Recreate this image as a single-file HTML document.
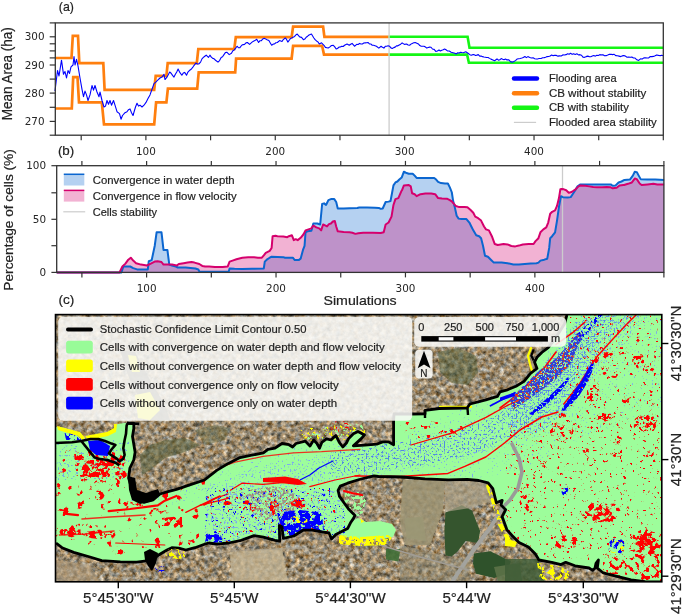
<!DOCTYPE html><html><head><meta charset="utf-8"><style>html,body{margin:0;padding:0;background:#fff;width:685px;height:614px;overflow:hidden}svg{display:block}.t{font-family:"DejaVu Sans",sans-serif;font-size:10.4px;fill:#262626}.c{font-family:"Liberation Sans",sans-serif;fill:#222;stroke:#222;stroke-width:0.2px}</style></head><body>
<svg width="685" height="614" viewBox="0 0 685 614">
<rect width="685" height="614" fill="#fff"/>
<polyline points="55.30,58.00 71.50,58.00 72.80,35.90 78.00,35.90 79.30,63.10 103.30,63.10 104.60,89.80 154.20,89.80 155.70,75.80 166.40,75.80 167.70,63.10 196.80,63.10 198.30,49.00 234.30,49.00 235.80,37.20 291.60,37.20 293.10,26.60 323.10,26.60 324.40,36.80 388.60,36.80" fill="none" stroke="#ff7f0e" stroke-width="2.7" stroke-linejoin="miter"/>
<polyline points="55.30,108.50 71.80,108.50 73.20,77.10 77.50,77.10 79.00,102.40 101.80,102.40 104.00,124.30 154.20,124.30 156.10,102.40 166.40,102.40 167.90,88.70 197.20,88.70 198.70,72.40 235.20,72.40 236.10,58.70 291.60,58.70 293.10,45.80 322.10,45.80 324.00,54.60 388.60,54.60" fill="none" stroke="#ff7f0e" stroke-width="2.7"/>
<polyline points="388.60,36.80 467.60,36.80 469.50,47.70 663.30,47.70" fill="none" stroke="#14f514" stroke-width="2.6"/>
<polyline points="388.60,54.60 467.10,54.60 468.90,62.80 663.30,62.80" fill="none" stroke="#14f514" stroke-width="2.6"/>
<line x1="389.1" y1="22.9" x2="389.1" y2="135.2" stroke="#cccccc" stroke-width="1.3"/>
<polyline points="55.00,91.00 57.50,70.50 59.00,76.00 61.50,60.20 63.50,74.30 65.00,71.50 66.50,78.00 68.00,70.50 69.50,73.40 71.00,66.80 73.00,65.00 74.00,56.50 75.00,65.00 76.50,59.30 78.00,65.90 80.00,78.00 82.00,89.30 83.50,96.70 85.00,91.10 86.50,94.90 88.00,100.50 90.00,94.90 92.00,85.50 93.50,90.20 95.00,85.50 97.00,92.00 99.00,96.70 100.00,92.00 102.00,100.50 104.00,107.00 105.50,106.10 107.00,100.50 108.50,104.20 110.00,100.50 111.50,105.20 113.50,100.50 115.00,105.20 117.00,111.70 119.50,113.60 121.00,119.20 122.50,115.50 125.00,112.70 127.00,111.70 128.50,109.64 130.00,108.90 131.50,112.70 133.00,115.50 135.50,107.00 137.00,103.30 138.50,106.10 140.00,105.20 142.00,107.00 144.00,105.20 146.00,102.40 148.00,98.60 150.00,94.90 152.00,89.30 154.00,83.60 156.00,81.80 158.00,79.90 160.00,78.00 162.00,77.10 164.00,74.30 165.00,79.53 166.56,77.66 168.12,75.01 169.68,72.04 171.12,73.28 172.55,75.40 173.99,77.09 175.36,74.32 176.73,72.00 178.10,69.05 179.97,72.65 181.85,75.22 183.25,73.08 184.66,72.41 186.53,75.22 187.94,72.03 189.34,70.54 191.21,69.27 193.08,66.80 194.49,64.81 195.89,63.06 197.29,64.00 198.70,63.99 200.57,62.12 201.97,58.88 203.38,57.44 204.78,56.22 206.18,55.19 208.43,57.44 209.93,55.19 211.33,57.18 212.73,58.38 214.13,58.83 215.54,60.25 217.98,62.12 219.57,60.58 221.16,57.44 222.56,56.76 223.97,54.63 225.37,52.57 226.77,52.20 229.21,54.63 231.45,53.32 232.85,50.78 234.26,49.95 235.66,48.15 237.07,46.21 238.47,47.75 239.88,47.70 241.75,45.27 243.16,44.59 244.56,44.34 245.97,42.89 247.37,42.46 249.61,44.34 252.05,42.09 253.45,41.20 254.85,40.59 256.73,39.28 258.60,42.46 260.00,40.68 261.41,40.59 262.81,38.97 264.21,38.35 265.62,38.89 267.02,39.66 268.89,40.59 270.29,42.92 271.70,45.27 273.11,44.13 274.51,43.96 275.91,42.73 277.32,42.46 279.56,40.59 282.00,41.53 282.81,40.22 285.24,37.78 286.55,39.43 287.86,42.09 290.30,38.72 291.70,37.90 293.10,37.22 294.60,36.47 295.91,34.88 297.22,34.04 299.66,36.85 301.53,37.39 303.40,39.66 304.80,39.05 306.21,37.22 307.62,36.20 309.02,34.98 311.45,34.04 313.70,37.78 315.10,39.63 316.50,40.97 317.90,41.90 319.31,43.96 321.56,42.84 323.99,45.27 325.39,47.37 326.80,47.70 328.21,48.07 329.61,47.14 331.48,45.52 333.35,45.27 334.75,46.84 336.16,49.02 337.57,48.48 338.97,47.14 340.37,47.06 341.77,46.21 343.17,46.53 344.58,45.27 347.02,43.96 349.26,45.27 350.66,44.19 352.07,43.40 354.50,46.21 356.75,44.34 358.15,44.46 359.56,43.40 360.97,43.99 362.37,43.96 363.77,43.05 365.17,42.84 366.58,42.81 367.98,42.46 369.38,43.90 370.79,43.96 372.20,45.24 373.60,45.27 375.00,45.75 376.41,46.21 378.84,48.08 381.09,46.21 382.49,47.31 383.89,48.08 385.29,46.31 386.70,46.21 388.11,45.75 389.51,46.21 390.91,47.87 392.32,48.45 393.73,47.64 395.13,47.14 396.47,45.90 397.81,45.83 399.24,44.92 400.68,44.20 402.11,42.84 404.36,44.34 406.61,43.96 408.11,44.93 409.60,45.27 410.91,44.11 412.22,43.40 413.72,42.82 415.22,42.46 416.81,43.23 418.40,43.96 419.80,45.59 421.21,46.21 422.62,46.25 424.02,46.21 425.42,46.95 426.82,48.08 428.23,47.59 429.63,47.14 431.03,47.23 432.44,49.02 434.12,49.41 435.81,51.45 437.40,51.07 438.99,49.95 440.39,51.01 441.80,50.33 443.21,49.84 444.61,49.02 446.01,49.76 447.41,50.89 449.29,50.95 451.16,52.20 453.03,52.76 454.90,53.32 456.30,53.91 457.71,52.76 459.12,52.97 460.52,52.20 461.92,52.55 463.33,52.76 465.76,51.82 468.01,53.32 469.88,54.63 471.28,55.28 472.69,54.63 474.09,54.62 475.49,55.57 476.89,55.12 478.30,54.63 479.71,56.10 481.11,55.94 482.51,56.64 483.92,57.06 485.33,57.18 486.73,57.44 488.13,57.49 489.53,58.38 490.93,59.12 492.34,59.69 494.59,60.81 497.02,58.94 498.42,60.14 499.83,59.69 501.24,58.61 502.64,59.31 504.04,59.64 505.45,58.94 507.03,59.92 508.61,59.74 510.42,61.64 512.23,62.15 513.83,61.54 515.44,60.62 517.04,59.02 518.65,58.73 520.25,58.48 521.86,58.05 523.37,57.56 524.87,56.53 526.38,57.64 527.88,56.61 529.68,57.46 531.49,58.05 533.10,57.83 534.70,58.71 536.31,59.02 537.92,58.83 539.52,58.44 541.13,58.54 542.63,57.78 544.14,57.64 545.64,57.31 547.15,56.61 548.65,56.57 550.16,56.05 551.66,55.04 553.17,55.65 554.78,55.32 556.38,55.39 557.99,56.13 559.59,55.88 561.20,55.97 562.80,54.92 564.41,55.06 566.01,54.65 567.62,53.72 569.12,54.29 570.63,53.28 572.13,54.34 573.64,53.72 575.25,54.43 576.85,53.77 578.46,54.92 579.97,54.65 581.47,55.25 582.98,57.19 584.48,57.33 586.09,56.64 587.69,56.15 589.30,56.61 590.80,56.71 592.31,56.09 593.82,55.48 595.32,56.13 596.83,55.21 598.33,55.57 599.84,54.63 601.34,54.92 602.95,54.75 604.55,55.79 606.16,55.65 607.76,55.09 609.37,54.36 610.97,54.20 612.58,54.64 614.18,54.31 615.79,55.65 617.40,55.77 619.00,56.15 620.61,56.61 622.21,55.89 623.82,55.59 625.42,56.13 627.03,57.25 628.63,56.95 630.24,57.33 631.85,57.05 633.45,58.00 635.06,58.05 636.87,59.83 638.67,60.46 640.47,58.88 642.28,59.02 643.89,57.83 645.49,57.74 647.10,58.05 648.71,57.96 650.31,56.48 651.92,56.61 653.52,56.41 655.13,55.80 656.73,54.92 658.54,55.37 660.35,55.65 661.80,55.15 663.24,55.65" fill="none" stroke="#0000ff" stroke-width="1.1" stroke-linejoin="round"/>
<rect x="55.3" y="22.9" width="608.0" height="112.29999999999998" fill="none" stroke="#333" stroke-width="1.3"/>
<line x1="49.7" y1="22.9" x2="55.3" y2="22.9" stroke="#333" stroke-width="1.2"/>
<line x1="49.7" y1="36.8" x2="55.3" y2="36.8" stroke="#333" stroke-width="1.2"/>
<line x1="49.7" y1="43.8" x2="55.3" y2="43.8" stroke="#333" stroke-width="1.2"/>
<line x1="49.7" y1="50.9" x2="55.3" y2="50.9" stroke="#333" stroke-width="1.2"/>
<line x1="49.7" y1="57.9" x2="55.3" y2="57.9" stroke="#333" stroke-width="1.2"/>
<line x1="49.7" y1="65.0" x2="55.3" y2="65.0" stroke="#333" stroke-width="1.2"/>
<line x1="49.7" y1="79.1" x2="55.3" y2="79.1" stroke="#333" stroke-width="1.2"/>
<line x1="49.7" y1="93.1" x2="55.3" y2="93.1" stroke="#333" stroke-width="1.2"/>
<line x1="49.7" y1="107.3" x2="55.3" y2="107.3" stroke="#333" stroke-width="1.2"/>
<line x1="49.7" y1="121.4" x2="55.3" y2="121.4" stroke="#333" stroke-width="1.2"/>
<line x1="49.7" y1="135.2" x2="55.3" y2="135.2" stroke="#333" stroke-width="1.2"/>
<text class="t" x="44.6" y="40.45" text-anchor="end">300</text>
<text class="t" x="44.6" y="68.65" text-anchor="end">290</text>
<text class="t" x="44.6" y="96.75" text-anchor="end">280</text>
<text class="t" x="44.6" y="125.05" text-anchor="end">270</text>
<line x1="81.20" y1="135.2" x2="81.20" y2="140.3" stroke="#333" stroke-width="1.2"/>
<line x1="145.89" y1="135.2" x2="145.89" y2="140.3" stroke="#333" stroke-width="1.2"/>
<line x1="210.58" y1="135.2" x2="210.58" y2="140.3" stroke="#333" stroke-width="1.2"/>
<line x1="275.27" y1="135.2" x2="275.27" y2="140.3" stroke="#333" stroke-width="1.2"/>
<line x1="339.96" y1="135.2" x2="339.96" y2="140.3" stroke="#333" stroke-width="1.2"/>
<line x1="404.65" y1="135.2" x2="404.65" y2="140.3" stroke="#333" stroke-width="1.2"/>
<line x1="469.34" y1="135.2" x2="469.34" y2="140.3" stroke="#333" stroke-width="1.2"/>
<line x1="534.03" y1="135.2" x2="534.03" y2="140.3" stroke="#333" stroke-width="1.2"/>
<line x1="598.72" y1="135.2" x2="598.72" y2="140.3" stroke="#333" stroke-width="1.2"/>
<text class="t" x="145.89" y="154.5" text-anchor="middle">100</text>
<text class="t" x="275.27" y="154.5" text-anchor="middle">200</text>
<text class="t" x="404.65" y="154.5" text-anchor="middle">300</text>
<text class="t" x="534.03" y="154.5" text-anchor="middle">400</text>
<line x1="663.3" y1="135.2" x2="663.3" y2="140.3" stroke="#333" stroke-width="1.2"/>
<line x1="514" y1="78.5" x2="537" y2="78.5" stroke="#0000ff" stroke-width="4.4" stroke-linecap="round"/>
<line x1="514" y1="93.2" x2="537" y2="93.2" stroke="#ff7f0e" stroke-width="4.4" stroke-linecap="round"/>
<line x1="514" y1="107.7" x2="537" y2="107.7" stroke="#14f514" stroke-width="4.4" stroke-linecap="round"/>
<line x1="513.9" y1="122.4" x2="536.1" y2="122.4" stroke="#cccccc" stroke-width="1.2"/>
<text class="c" x="548.9" y="82.0" font-size="11.6" textLength="67.8" lengthAdjust="spacingAndGlyphs">Flooding area</text>
<text class="c" x="548.9" y="96.5" font-size="11.6" textLength="97.4" lengthAdjust="spacingAndGlyphs">CB without stability</text>
<text class="c" x="548.9" y="111.2" font-size="11.6" textLength="79.9" lengthAdjust="spacingAndGlyphs">CB with stability</text>
<text class="c" x="548.9" y="125.9" font-size="11.6" textLength="107.9" lengthAdjust="spacingAndGlyphs">Flooded area stability</text>
<text class="c" x="58.8" y="11.4" font-size="13.5" textLength="15.1" lengthAdjust="spacingAndGlyphs">(a)</text>
<text class="c" transform="translate(12.2,73.75) rotate(-90)" text-anchor="middle" font-size="13.8" textLength="93" lengthAdjust="spacingAndGlyphs">Mean Area (ha)</text>
<polygon points="56.70,272.40 56.70,272.40 121.40,272.40 123.40,266.50 130.20,266.50 133.20,268.10 137.10,269.40 147.80,269.40 148.80,261.20 151.70,260.10 154.70,246.00 156.60,232.30 161.50,232.30 163.50,249.90 167.40,249.90 169.30,264.60 172.00,265.50 175.86,266.51 177.82,267.48 185.63,267.48 195.41,268.46 198.34,269.44 199.31,271.39 209.09,271.78 228.63,271.78 229.61,268.46 234.49,268.85 242.31,269.05 252.08,268.85 263.80,268.46 264.78,261.62 266.74,259.67 269.67,257.71 271.62,256.74 283.35,257.13 285.00,257.71 292.82,257.71 294.77,260.06 298.68,260.06 300.63,258.69 302.98,249.90 304.54,245.99 305.52,232.31 307.47,231.33 311.38,230.74 313.34,223.51 317.25,223.51 320.18,224.49 322.13,203.97 324.09,203.38 326.04,204.95 328.38,200.06 330.93,199.09 334.25,199.09 336.20,202.02 337.77,208.47 343.63,208.47 349.49,208.27 357.31,208.08 359.26,207.49 367.08,207.49 374.90,207.68 378.80,207.88 380.76,208.86 382.71,208.47 385.64,202.02 388.58,201.63 390.53,201.04 393.46,185.41 395.42,182.47 397.37,181.50 399.32,179.54 401.67,177.59 403.91,171.73 405.86,172.70 408.79,173.68 412.70,173.68 414.66,175.63 416.61,177.98 421.50,177.98 429.31,177.98 434.20,177.98 436.15,179.54 438.11,181.89 441.04,183.06 444.95,183.45 447.88,183.45 449.83,187.36 451.79,192.25 453.16,201.04 454.72,206.90 456.67,215.70 458.63,218.63 461.56,219.02 466.45,219.02 469.38,222.54 471.33,226.45 473.29,230.35 476.22,235.24 479.15,236.22 481.10,238.17 483.06,245.99 485.01,255.76 487.94,256.74 490.87,259.67 493.80,262.60 501.62,262.60 507.48,263.19 513.35,264.55 515.00,264.55 518.91,264.55 524.77,263.97 530.63,263.58 536.50,263.19 538.45,262.60 540.41,260.64 544.31,259.67 547.25,258.69 549.20,247.94 550.18,238.17 552.13,236.22 555.06,232.31 557.02,220.58 558.97,206.90 560.93,196.15 562.88,197.13 567.77,197.52 570.70,197.13 572.65,194.20 574.61,191.27 577.54,186.38 580.47,184.43 585.35,184.43 597.08,184.43 604.90,184.43 610.76,184.43 612.71,185.80 615.64,185.41 618.58,182.47 621.51,181.50 624.44,179.93 629.92,179.53 632.85,175.62 634.80,171.72 636.76,172.11 638.71,175.62 640.66,179.14 647.50,179.53 655.31,179.53 664.10,179.92 664.10,272.40" fill="#0b66d0" fill-opacity="0.3"/>
<polygon points="56.70,272.40 56.70,272.40 119.50,272.40 122.40,266.50 125.40,263.60 128.30,259.70 130.80,257.70 133.20,260.60 136.10,263.20 141.00,264.60 146.90,265.50 150.80,263.60 154.70,261.60 157.60,261.20 161.50,262.00 163.50,264.60 172.00,264.60 176.84,265.53 178.79,263.97 183.68,263.19 187.59,262.60 191.50,262.01 194.43,262.60 199.31,263.97 202.25,265.92 205.18,266.51 209.09,266.51 214.95,266.90 222.77,267.09 227.65,266.51 229.61,261.62 232.54,260.64 236.45,259.28 238.40,258.69 242.31,257.71 248.17,257.32 254.03,257.32 257.94,257.71 261.85,257.71 263.80,255.37 265.76,252.83 269.67,250.87 271.62,247.94 272.60,236.22 275.53,235.83 277.48,236.22 283.35,236.61 287.26,237.19 288.91,236.22 291.84,235.24 293.79,240.13 295.75,239.15 297.70,240.13 300.63,237.78 303.57,234.26 305.52,230.35 308.45,229.38 311.38,228.40 313.34,225.47 316.27,227.42 319.20,228.40 321.15,230.35 323.11,224.49 325.06,225.47 327.02,226.45 328.97,224.10 330.93,223.51 332.88,221.56 334.83,220.97 336.20,226.45 337.77,231.33 343.63,231.92 349.49,232.31 352.42,232.70 355.35,233.87 358.29,233.29 363.17,232.70 372.94,232.70 380.76,233.09 383.69,232.31 385.64,224.49 388.58,222.54 391.51,216.67 393.46,204.95 395.42,199.09 398.35,198.11 401.28,191.27 401.95,190.29 403.91,185.41 408.79,185.01 410.75,186.38 412.12,193.22 414.66,194.20 416.61,196.15 420.52,194.20 425.41,193.61 431.27,193.61 435.18,194.20 438.11,198.11 442.02,198.50 446.90,198.69 449.83,200.06 451.79,201.43 455.70,205.93 458.63,206.90 464.49,206.90 467.42,207.29 470.35,209.83 473.29,212.77 475.24,216.67 478.17,218.24 481.10,220.58 484.03,226.45 485.99,229.38 488.92,230.35 491.85,236.22 494.78,244.03 497.71,245.01 503.58,244.03 507.48,244.42 511.39,245.99 515.30,246.38 518.91,245.60 522.82,244.42 528.68,244.03 533.57,244.03 535.52,241.10 538.45,238.17 540.41,232.31 543.34,229.38 546.27,227.42 548.22,222.54 550.18,213.74 552.13,211.79 555.06,210.42 557.02,205.93 558.97,198.11 560.34,189.31 561.90,188.92 563.86,189.31 566.20,190.29 568.74,192.83 570.70,192.25 572.65,191.27 575.58,189.31 578.51,186.38 580.47,185.41 585.35,185.80 589.26,186.38 593.17,186.97 597.08,187.36 601.97,187.36 606.85,186.97 610.76,187.36 612.71,188.34 616.62,187.75 619.55,185.41 623.46,185.01 624.06,185.00 627.97,183.83 631.88,182.46 634.80,178.55 636.76,179.14 639.69,183.44 641.64,185.00 647.50,184.41 653.36,183.83 657.27,184.41 664.10,184.41 664.10,272.40" fill="#d5006d" fill-opacity="0.3"/>
<line x1="562.5" y1="165.7" x2="562.5" y2="272.4" stroke="#cccccc" stroke-width="1.3"/>
<polyline points="56.70,272.40 121.40,272.40 123.40,266.50 130.20,266.50 133.20,268.10 137.10,269.40 147.80,269.40 148.80,261.20 151.70,260.10 154.70,246.00 156.60,232.30 161.50,232.30 163.50,249.90 167.40,249.90 169.30,264.60 172.00,265.50 175.86,266.51 177.82,267.48 185.63,267.48 195.41,268.46 198.34,269.44 199.31,271.39 209.09,271.78 228.63,271.78 229.61,268.46 234.49,268.85 242.31,269.05 252.08,268.85 263.80,268.46 264.78,261.62 266.74,259.67 269.67,257.71 271.62,256.74 283.35,257.13 285.00,257.71 292.82,257.71 294.77,260.06 298.68,260.06 300.63,258.69 302.98,249.90 304.54,245.99 305.52,232.31 307.47,231.33 311.38,230.74 313.34,223.51 317.25,223.51 320.18,224.49 322.13,203.97 324.09,203.38 326.04,204.95 328.38,200.06 330.93,199.09 334.25,199.09 336.20,202.02 337.77,208.47 343.63,208.47 349.49,208.27 357.31,208.08 359.26,207.49 367.08,207.49 374.90,207.68 378.80,207.88 380.76,208.86 382.71,208.47 385.64,202.02 388.58,201.63 390.53,201.04 393.46,185.41 395.42,182.47 397.37,181.50 399.32,179.54 401.67,177.59 403.91,171.73 405.86,172.70 408.79,173.68 412.70,173.68 414.66,175.63 416.61,177.98 421.50,177.98 429.31,177.98 434.20,177.98 436.15,179.54 438.11,181.89 441.04,183.06 444.95,183.45 447.88,183.45 449.83,187.36 451.79,192.25 453.16,201.04 454.72,206.90 456.67,215.70 458.63,218.63 461.56,219.02 466.45,219.02 469.38,222.54 471.33,226.45 473.29,230.35 476.22,235.24 479.15,236.22 481.10,238.17 483.06,245.99 485.01,255.76 487.94,256.74 490.87,259.67 493.80,262.60 501.62,262.60 507.48,263.19 513.35,264.55 515.00,264.55 518.91,264.55 524.77,263.97 530.63,263.58 536.50,263.19 538.45,262.60 540.41,260.64 544.31,259.67 547.25,258.69 549.20,247.94 550.18,238.17 552.13,236.22 555.06,232.31 557.02,220.58 558.97,206.90 560.93,196.15 562.88,197.13 567.77,197.52 570.70,197.13 572.65,194.20 574.61,191.27 577.54,186.38 580.47,184.43 585.35,184.43 597.08,184.43 604.90,184.43 610.76,184.43 612.71,185.80 615.64,185.41 618.58,182.47 621.51,181.50 624.44,179.93 629.92,179.53 632.85,175.62 634.80,171.72 636.76,172.11 638.71,175.62 640.66,179.14 647.50,179.53 655.31,179.53 664.10,179.92" fill="none" stroke="#0b66d0" stroke-width="2" stroke-linejoin="round"/>
<polyline points="56.70,272.40 119.50,272.40 122.40,266.50 125.40,263.60 128.30,259.70 130.80,257.70 133.20,260.60 136.10,263.20 141.00,264.60 146.90,265.50 150.80,263.60 154.70,261.60 157.60,261.20 161.50,262.00 163.50,264.60 172.00,264.60 176.84,265.53 178.79,263.97 183.68,263.19 187.59,262.60 191.50,262.01 194.43,262.60 199.31,263.97 202.25,265.92 205.18,266.51 209.09,266.51 214.95,266.90 222.77,267.09 227.65,266.51 229.61,261.62 232.54,260.64 236.45,259.28 238.40,258.69 242.31,257.71 248.17,257.32 254.03,257.32 257.94,257.71 261.85,257.71 263.80,255.37 265.76,252.83 269.67,250.87 271.62,247.94 272.60,236.22 275.53,235.83 277.48,236.22 283.35,236.61 287.26,237.19 288.91,236.22 291.84,235.24 293.79,240.13 295.75,239.15 297.70,240.13 300.63,237.78 303.57,234.26 305.52,230.35 308.45,229.38 311.38,228.40 313.34,225.47 316.27,227.42 319.20,228.40 321.15,230.35 323.11,224.49 325.06,225.47 327.02,226.45 328.97,224.10 330.93,223.51 332.88,221.56 334.83,220.97 336.20,226.45 337.77,231.33 343.63,231.92 349.49,232.31 352.42,232.70 355.35,233.87 358.29,233.29 363.17,232.70 372.94,232.70 380.76,233.09 383.69,232.31 385.64,224.49 388.58,222.54 391.51,216.67 393.46,204.95 395.42,199.09 398.35,198.11 401.28,191.27 401.95,190.29 403.91,185.41 408.79,185.01 410.75,186.38 412.12,193.22 414.66,194.20 416.61,196.15 420.52,194.20 425.41,193.61 431.27,193.61 435.18,194.20 438.11,198.11 442.02,198.50 446.90,198.69 449.83,200.06 451.79,201.43 455.70,205.93 458.63,206.90 464.49,206.90 467.42,207.29 470.35,209.83 473.29,212.77 475.24,216.67 478.17,218.24 481.10,220.58 484.03,226.45 485.99,229.38 488.92,230.35 491.85,236.22 494.78,244.03 497.71,245.01 503.58,244.03 507.48,244.42 511.39,245.99 515.30,246.38 518.91,245.60 522.82,244.42 528.68,244.03 533.57,244.03 535.52,241.10 538.45,238.17 540.41,232.31 543.34,229.38 546.27,227.42 548.22,222.54 550.18,213.74 552.13,211.79 555.06,210.42 557.02,205.93 558.97,198.11 560.34,189.31 561.90,188.92 563.86,189.31 566.20,190.29 568.74,192.83 570.70,192.25 572.65,191.27 575.58,189.31 578.51,186.38 580.47,185.41 585.35,185.80 589.26,186.38 593.17,186.97 597.08,187.36 601.97,187.36 606.85,186.97 610.76,187.36 612.71,188.34 616.62,187.75 619.55,185.41 623.46,185.01 624.06,185.00 627.97,183.83 631.88,182.46 634.80,178.55 636.76,179.14 639.69,183.44 641.64,185.00 647.50,184.41 653.36,183.83 657.27,184.41 664.10,184.41" fill="none" stroke="#d5006d" stroke-width="2" stroke-linejoin="round"/>
<rect x="56.7" y="165.7" width="607.1999999999999" height="106.69999999999999" fill="none" stroke="#333" stroke-width="1.3"/>
<line x1="51.4" y1="165.7" x2="56.7" y2="165.7" stroke="#333" stroke-width="1.2"/>
<line x1="51.4" y1="192.8" x2="56.7" y2="192.8" stroke="#333" stroke-width="1.2"/>
<line x1="51.4" y1="219.3" x2="56.7" y2="219.3" stroke="#333" stroke-width="1.2"/>
<line x1="51.4" y1="245.7" x2="56.7" y2="245.7" stroke="#333" stroke-width="1.2"/>
<line x1="51.4" y1="272.4" x2="56.7" y2="272.4" stroke="#333" stroke-width="1.2"/>
<text class="t" x="46.0" y="169.45" text-anchor="end">100</text>
<text class="t" x="46.0" y="222.95" text-anchor="end">50</text>
<text class="t" x="46.0" y="276.05" text-anchor="end">0</text>
<line x1="81.90" y1="165.7" x2="81.90" y2="160.9" stroke="#333" stroke-width="1.2"/>
<line x1="81.90" y1="272.4" x2="81.90" y2="277.4" stroke="#333" stroke-width="1.2"/>
<line x1="146.61" y1="165.7" x2="146.61" y2="160.9" stroke="#333" stroke-width="1.2"/>
<line x1="146.61" y1="272.4" x2="146.61" y2="277.4" stroke="#333" stroke-width="1.2"/>
<line x1="211.32" y1="165.7" x2="211.32" y2="160.9" stroke="#333" stroke-width="1.2"/>
<line x1="211.32" y1="272.4" x2="211.32" y2="277.4" stroke="#333" stroke-width="1.2"/>
<line x1="276.03" y1="165.7" x2="276.03" y2="160.9" stroke="#333" stroke-width="1.2"/>
<line x1="276.03" y1="272.4" x2="276.03" y2="277.4" stroke="#333" stroke-width="1.2"/>
<line x1="340.74" y1="165.7" x2="340.74" y2="160.9" stroke="#333" stroke-width="1.2"/>
<line x1="340.74" y1="272.4" x2="340.74" y2="277.4" stroke="#333" stroke-width="1.2"/>
<line x1="405.45" y1="165.7" x2="405.45" y2="160.9" stroke="#333" stroke-width="1.2"/>
<line x1="405.45" y1="272.4" x2="405.45" y2="277.4" stroke="#333" stroke-width="1.2"/>
<line x1="470.16" y1="165.7" x2="470.16" y2="160.9" stroke="#333" stroke-width="1.2"/>
<line x1="470.16" y1="272.4" x2="470.16" y2="277.4" stroke="#333" stroke-width="1.2"/>
<line x1="534.87" y1="165.7" x2="534.87" y2="160.9" stroke="#333" stroke-width="1.2"/>
<line x1="534.87" y1="272.4" x2="534.87" y2="277.4" stroke="#333" stroke-width="1.2"/>
<line x1="599.58" y1="165.7" x2="599.58" y2="160.9" stroke="#333" stroke-width="1.2"/>
<line x1="599.58" y1="272.4" x2="599.58" y2="277.4" stroke="#333" stroke-width="1.2"/>
<line x1="663.9" y1="165.7" x2="663.9" y2="160.9" stroke="#333" stroke-width="1.2"/>
<line x1="663.9" y1="272.4" x2="663.9" y2="277.4" stroke="#333" stroke-width="1.2"/>
<text class="t" x="146.61" y="291.6" text-anchor="middle">100</text>
<text class="t" x="276.03" y="291.6" text-anchor="middle">200</text>
<text class="t" x="405.45" y="291.6" text-anchor="middle">300</text>
<text class="t" x="534.87" y="291.6" text-anchor="middle">400</text>
<rect x="63.8" y="173.8" width="20.5" height="11.7" fill="#0b66d0" fill-opacity="0.3"/>
<line x1="63.8" y1="174.3" x2="84.3" y2="174.3" stroke="#0b66d0" stroke-width="1.5"/>
<rect x="63.8" y="189.9" width="20.5" height="11.7" fill="#d5006d" fill-opacity="0.3"/>
<line x1="63.8" y1="190.4" x2="84.3" y2="190.4" stroke="#d5006d" stroke-width="1.5"/>
<line x1="63.3" y1="211.8" x2="85.2" y2="211.8" stroke="#cccccc" stroke-width="1.2"/>
<text class="c" x="92.7" y="184.1" font-size="11.4" textLength="142.0" lengthAdjust="spacingAndGlyphs">Convergence in water depth</text>
<text class="c" x="92.7" y="199.9" font-size="11.4" textLength="144.0" lengthAdjust="spacingAndGlyphs">Convergence in flow velocity</text>
<text class="c" x="92.7" y="215.7" font-size="11.4" textLength="64.4" lengthAdjust="spacingAndGlyphs">Cells stability</text>
<text class="c" x="57.9" y="155.1" font-size="13.5" textLength="16.3" lengthAdjust="spacingAndGlyphs">(b)</text>
<text class="c" transform="translate(13,219.9) rotate(-90)" text-anchor="middle" font-size="13.3" textLength="141.5" lengthAdjust="spacingAndGlyphs">Percentage of cells (%)</text>
<text class="c" x="323.5" y="304.7" font-size="13.3" textLength="73.2" lengthAdjust="spacingAndGlyphs">Simulations</text>
<text class="c" x="58.5" y="303.6" font-size="13.5" textLength="15.9" lengthAdjust="spacingAndGlyphs">(c)</text>
<defs>
<clipPath id="mclip"><rect x="55.5" y="314.6" width="606.3" height="267.2"/></clipPath>
<clipPath id="gclip"><polygon points="56.0,427.0 62.0,427.5 70.0,429.5 81.0,433.5 85.0,439.0 95.0,436.0 107.0,434.0 115.0,431.0 114.0,426.0 118.0,424.0 124.0,423.0 127.0,423.0 133.8,423.3 133.8,428.5 132.5,436.4 133.8,444.3 135.1,452.2 133.8,460.0 129.9,468.0 128.6,478.0 132.0,489.4 136.8,498.8 143.8,502.3 153.0,500.0 160.0,494.0 167.0,491.8 176.5,489.4 190.5,484.7 204.5,480.0 216.7,470.4 228.4,463.4 240.0,457.6 251.7,455.2 263.4,452.9 268.0,449.4 275.0,448.2 282.0,443.5 289.0,444.7 292.6,447.0 296.0,443.5 305.4,441.2 310.0,445.9 313.6,440.0 317.0,443.5 319.5,448.2 321.8,442.4 326.5,438.9 331.0,440.0 335.8,435.4 339.3,442.4 342.8,447.0 346.4,443.0 348.7,438.4 353.4,433.7 358.0,431.4 364.5,434.9 361.5,438.4 353.4,445.9 365.0,445.1 376.7,444.2 382.6,441.9 388.4,441.9 393.6,444.8 393.6,421.4 394.0,414.0 412.0,414.0 425.0,413.9 425.0,410.4 439.0,408.5 467.0,408.0 470.0,404.0 485.8,399.9 497.5,396.4 500.0,391.8 506.4,390.2 516.0,386.2 524.0,381.4 530.5,373.4 537.0,368.5 534.5,362.0 537.0,357.3 541.8,352.5 548.2,347.7 555.0,339.0 560.0,331.0 564.6,323.7 566.9,315.0 661.8,315.0 661.8,582.0 645.0,581.7 631.0,579.8 617.0,576.3 603.0,572.8 597.3,568.0 598.4,560.0 596.0,563.4 595.0,568.0 592.6,570.4 589.0,568.0 575.0,565.8 565.7,562.3 561.0,564.6 551.7,562.3 538.9,560.0 535.4,554.0 528.4,547.0 519.0,542.4 512.0,535.4 507.0,530.0 502.2,516.7 505.7,509.7 501.0,505.0 502.2,500.4 496.3,502.7 495.2,498.0 492.8,488.7 488.1,482.8 478.8,480.5 467.1,479.3 448.4,479.8 425.0,478.9 401.7,477.0 378.4,476.5 374.0,475.9 359.3,479.5 347.6,483.2 340.3,486.1 338.1,490.5 339.5,496.4 344.7,503.7 349.0,509.6 355.0,515.4 353.5,518.4 350.5,522.8 347.6,528.6 341.7,531.6 335.9,534.5 331.5,538.9 329.0,533.0 321.8,531.9 312.4,530.2 303.0,530.2 293.8,536.0 283.3,538.4 282.0,526.7 279.3,525.5 279.7,541.2 275.0,540.3 263.4,537.2 254.0,535.6 240.0,540.7 228.4,543.0 216.7,544.2 209.0,543.0 204.5,544.2 195.0,547.7 185.8,550.0 178.8,548.2 171.8,547.7 167.0,550.0 159.0,554.7 153.0,559.4 152.0,567.6 148.4,560.6 136.8,562.2 120.4,561.8 101.7,560.6 90.0,557.0 73.7,552.4 62.0,547.7 56.0,543.0"/><polygon points="352,521 358,518 366,522 380,521 392,524 396,530 393,537 380,539 360,539 345,537 340,535 343,531 347,529 350,523"/></clipPath>
<filter id="sat" color-interpolation-filters="sRGB" x="0" y="0" width="100%" height="100%"><feTurbulence type="fractalNoise" baseFrequency="0.22" numOctaves="3" seed="7"/><feColorMatrix type="matrix" values="0.9 0.45 0.4 0 -0.265  0.9 0.15 0.4 0 -0.175  0.9 -0.2 0.4 0 -0.10  0 0 0 0 1"/></filter>
<filter id="sp0" color-interpolation-filters="sRGB" x="0" y="0" width="100%" height="100%"><feTurbulence type="fractalNoise" baseFrequency="0.5" numOctaves="3" seed="21" result="n"/><feColorMatrix in="n" type="matrix" values="0 0 0 0 0.478  0 0 0 0 0.651  0 0 0 0 0.957  14 0 0 0 -8.82"/><feComposite in2="SourceGraphic" operator="in"/></filter>
<filter id="sp1" color-interpolation-filters="sRGB" x="0" y="0" width="100%" height="100%"><feTurbulence type="fractalNoise" baseFrequency="0.45" numOctaves="3" seed="23" result="n"/><feColorMatrix in="n" type="matrix" values="0 0 0 0 0.478  0 0 0 0 0.651  0 0 0 0 0.957  14 0 0 0 -8.40"/><feComposite in2="SourceGraphic" operator="in"/></filter>
<filter id="sp2" color-interpolation-filters="sRGB" x="0" y="0" width="100%" height="100%"><feTurbulence type="fractalNoise" baseFrequency="0.4" numOctaves="3" seed="25" result="n"/><feColorMatrix in="n" type="matrix" values="0 0 0 0 0.424  0 0 0 0 0.612  0 0 0 0 0.949  14 0 0 0 -8.96"/><feComposite in2="SourceGraphic" operator="in"/></filter>
<filter id="sp3" color-interpolation-filters="sRGB" x="0" y="0" width="100%" height="100%"><feTurbulence type="fractalNoise" baseFrequency="0.5" numOctaves="3" seed="27" result="n"/><feColorMatrix in="n" type="matrix" values="0 0 0 0 0.357  0 0 0 0 0.549  0 0 0 0 0.941  14 0 0 0 -8.12"/><feComposite in2="SourceGraphic" operator="in"/></filter>
<filter id="sp4" color-interpolation-filters="sRGB" x="0" y="0" width="100%" height="100%"><feTurbulence type="fractalNoise" baseFrequency="0.5" numOctaves="3" seed="28" result="n"/><feColorMatrix in="n" type="matrix" values="0 0 0 0 0.290  0 0 0 0 0.490  0 0 0 0 0.910  14 0 0 0 -8.40"/><feComposite in2="SourceGraphic" operator="in"/></filter>
<filter id="sp5" color-interpolation-filters="sRGB" x="0" y="0" width="100%" height="100%"><feTurbulence type="fractalNoise" baseFrequency="0.5" numOctaves="3" seed="29" result="n"/><feColorMatrix in="n" type="matrix" values="0 0 0 0 0.478  0 0 0 0 0.651  0 0 0 0 0.957  14 0 0 0 -9.52"/><feComposite in2="SourceGraphic" operator="in"/></filter>
<filter id="sp6" color-interpolation-filters="sRGB" x="0" y="0" width="100%" height="100%"><feTurbulence type="fractalNoise" baseFrequency="0.18" numOctaves="3" seed="3" result="n"/><feColorMatrix in="n" type="matrix" values="0 0 0 0 1.000  0 0 0 0 0.000  0 0 0 0 0.000  14 0 0 0 -7.70"/><feComposite in2="SourceGraphic" operator="in"/></filter>
<filter id="sp7" color-interpolation-filters="sRGB" x="0" y="0" width="100%" height="100%"><feTurbulence type="fractalNoise" baseFrequency="0.18" numOctaves="3" seed="4" result="n"/><feColorMatrix in="n" type="matrix" values="0 0 0 0 1.000  0 0 0 0 0.000  0 0 0 0 0.000  14 0 0 0 -6.58"/><feComposite in2="SourceGraphic" operator="in"/></filter>
<filter id="sp8" color-interpolation-filters="sRGB" x="0" y="0" width="100%" height="100%"><feTurbulence type="fractalNoise" baseFrequency="0.2" numOctaves="3" seed="5" result="n"/><feColorMatrix in="n" type="matrix" values="0 0 0 0 1.000  0 0 0 0 0.000  0 0 0 0 0.000  14 0 0 0 -6.30"/><feComposite in2="SourceGraphic" operator="in"/></filter>
<filter id="sp9" color-interpolation-filters="sRGB" x="0" y="0" width="100%" height="100%"><feTurbulence type="fractalNoise" baseFrequency="0.2" numOctaves="3" seed="6" result="n"/><feColorMatrix in="n" type="matrix" values="0 0 0 0 1.000  0 0 0 0 0.000  0 0 0 0 0.000  14 0 0 0 -6.30"/><feComposite in2="SourceGraphic" operator="in"/></filter>
<filter id="sp10" color-interpolation-filters="sRGB" x="0" y="0" width="100%" height="100%"><feTurbulence type="fractalNoise" baseFrequency="0.2" numOctaves="3" seed="7" result="n"/><feColorMatrix in="n" type="matrix" values="0 0 0 0 1.000  0 0 0 0 0.000  0 0 0 0 0.000  14 0 0 0 -6.30"/><feComposite in2="SourceGraphic" operator="in"/></filter>
<filter id="sp11" color-interpolation-filters="sRGB" x="0" y="0" width="100%" height="100%"><feTurbulence type="fractalNoise" baseFrequency="0.2" numOctaves="3" seed="8" result="n"/><feColorMatrix in="n" type="matrix" values="0 0 0 0 1.000  0 0 0 0 0.000  0 0 0 0 0.000  14 0 0 0 -7.00"/><feComposite in2="SourceGraphic" operator="in"/></filter>
<filter id="sp12" color-interpolation-filters="sRGB" x="0" y="0" width="100%" height="100%"><feTurbulence type="fractalNoise" baseFrequency="0.2" numOctaves="3" seed="9" result="n"/><feColorMatrix in="n" type="matrix" values="0 0 0 0 1.000  0 0 0 0 0.000  0 0 0 0 0.000  14 0 0 0 -6.30"/><feComposite in2="SourceGraphic" operator="in"/></filter>
<filter id="sp13" color-interpolation-filters="sRGB" x="0" y="0" width="100%" height="100%"><feTurbulence type="fractalNoise" baseFrequency="0.13" numOctaves="3" seed="10" result="n"/><feColorMatrix in="n" type="matrix" values="0 0 0 0 1.000  0 0 0 0 0.000  0 0 0 0 0.000  14 0 0 0 -9.24"/><feComposite in2="SourceGraphic" operator="in"/></filter>
<filter id="sp14" color-interpolation-filters="sRGB" x="0" y="0" width="100%" height="100%"><feTurbulence type="fractalNoise" baseFrequency="0.35" numOctaves="3" seed="57" result="n"/><feColorMatrix in="n" type="matrix" values="0 0 0 0 0.639  0 0 0 0 0.580  0 0 0 0 0.502  14 0 0 0 -7.00"/><feComposite in2="SourceGraphic" operator="in"/></filter>
<filter id="sp15" color-interpolation-filters="sRGB" x="0" y="0" width="100%" height="100%"><feTurbulence type="fractalNoise" baseFrequency="0.35" numOctaves="3" seed="58" result="n"/><feColorMatrix in="n" type="matrix" values="0 0 0 0 0.639  0 0 0 0 0.580  0 0 0 0 0.502  14 0 0 0 -7.70"/><feComposite in2="SourceGraphic" operator="in"/></filter>
<filter id="sp16" color-interpolation-filters="sRGB" x="0" y="0" width="100%" height="100%"><feTurbulence type="fractalNoise" baseFrequency="0.2" numOctaves="3" seed="11" result="n"/><feColorMatrix in="n" type="matrix" values="0 0 0 0 1.000  0 0 0 0 0.000  0 0 0 0 0.000  14 0 0 0 -6.30"/><feComposite in2="SourceGraphic" operator="in"/></filter>
<filter id="sp17" color-interpolation-filters="sRGB" x="0" y="0" width="100%" height="100%"><feTurbulence type="fractalNoise" baseFrequency="0.2" numOctaves="3" seed="12" result="n"/><feColorMatrix in="n" type="matrix" values="0 0 0 0 1.000  0 0 0 0 0.000  0 0 0 0 0.000  14 0 0 0 -7.00"/><feComposite in2="SourceGraphic" operator="in"/></filter>
<filter id="sp18" color-interpolation-filters="sRGB" x="0" y="0" width="100%" height="100%"><feTurbulence type="fractalNoise" baseFrequency="0.2" numOctaves="3" seed="13" result="n"/><feColorMatrix in="n" type="matrix" values="0 0 0 0 1.000  0 0 0 0 0.000  0 0 0 0 0.000  14 0 0 0 -6.30"/><feComposite in2="SourceGraphic" operator="in"/></filter>
<filter id="sp19" color-interpolation-filters="sRGB" x="0" y="0" width="100%" height="100%"><feTurbulence type="fractalNoise" baseFrequency="0.2" numOctaves="3" seed="14" result="n"/><feColorMatrix in="n" type="matrix" values="0 0 0 0 1.000  0 0 0 0 0.000  0 0 0 0 0.000  14 0 0 0 -5.88"/><feComposite in2="SourceGraphic" operator="in"/></filter>
<filter id="sp20" color-interpolation-filters="sRGB" x="0" y="0" width="100%" height="100%"><feTurbulence type="fractalNoise" baseFrequency="0.3" numOctaves="3" seed="15" result="n"/><feColorMatrix in="n" type="matrix" values="0 0 0 0 1.000  0 0 0 0 0.000  0 0 0 0 0.000  14 0 0 0 -9.80"/><feComposite in2="SourceGraphic" operator="in"/></filter>
<filter id="sp21" color-interpolation-filters="sRGB" x="0" y="0" width="100%" height="100%"><feTurbulence type="fractalNoise" baseFrequency="0.3" numOctaves="3" seed="16" result="n"/><feColorMatrix in="n" type="matrix" values="0 0 0 0 1.000  0 0 0 0 0.000  0 0 0 0 0.000  14 0 0 0 -7.84"/><feComposite in2="SourceGraphic" operator="in"/></filter>
<filter id="sp22" color-interpolation-filters="sRGB" x="0" y="0" width="100%" height="100%"><feTurbulence type="fractalNoise" baseFrequency="0.2" numOctaves="3" seed="17" result="n"/><feColorMatrix in="n" type="matrix" values="0 0 0 0 1.000  0 0 0 0 0.000  0 0 0 0 0.000  14 0 0 0 -6.30"/><feComposite in2="SourceGraphic" operator="in"/></filter>
<filter id="sp23" color-interpolation-filters="sRGB" x="0" y="0" width="100%" height="100%"><feTurbulence type="fractalNoise" baseFrequency="0.3" numOctaves="3" seed="70" result="n"/><feColorMatrix in="n" type="matrix" values="0 0 0 0 1.000  0 0 0 0 0.000  0 0 0 0 0.000  14 0 0 0 -6.30"/><feComposite in2="SourceGraphic" operator="in"/></filter>
<filter id="sp24" color-interpolation-filters="sRGB" x="0" y="0" width="100%" height="100%"><feTurbulence type="fractalNoise" baseFrequency="0.3" numOctaves="3" seed="71" result="n"/><feColorMatrix in="n" type="matrix" values="0 0 0 0 1.000  0 0 0 0 0.000  0 0 0 0 0.000  14 0 0 0 -7.00"/><feComposite in2="SourceGraphic" operator="in"/></filter>
<filter id="sp25" color-interpolation-filters="sRGB" x="0" y="0" width="100%" height="100%"><feTurbulence type="fractalNoise" baseFrequency="0.3" numOctaves="3" seed="72" result="n"/><feColorMatrix in="n" type="matrix" values="0 0 0 0 1.000  0 0 0 0 0.000  0 0 0 0 0.000  14 0 0 0 -6.30"/><feComposite in2="SourceGraphic" operator="in"/></filter>
<filter id="sp26" color-interpolation-filters="sRGB" x="0" y="0" width="100%" height="100%"><feTurbulence type="fractalNoise" baseFrequency="0.18" numOctaves="3" seed="18" result="n"/><feColorMatrix in="n" type="matrix" values="0 0 0 0 1.000  0 0 0 0 0.000  0 0 0 0 0.000  14 0 0 0 -7.28"/><feComposite in2="SourceGraphic" operator="in"/></filter>
<filter id="sp27" color-interpolation-filters="sRGB" x="0" y="0" width="100%" height="100%"><feTurbulence type="fractalNoise" baseFrequency="0.2" numOctaves="3" seed="48" result="n"/><feColorMatrix in="n" type="matrix" values="0 0 0 0 1.000  0 0 0 0 0.000  0 0 0 0 0.000  14 0 0 0 -6.16"/><feComposite in2="SourceGraphic" operator="in"/></filter>
<filter id="sp28" color-interpolation-filters="sRGB" x="0" y="0" width="100%" height="100%"><feTurbulence type="fractalNoise" baseFrequency="0.18" numOctaves="3" seed="19" result="n"/><feColorMatrix in="n" type="matrix" values="0 0 0 0 1.000  0 0 0 0 0.000  0 0 0 0 0.000  14 0 0 0 -7.00"/><feComposite in2="SourceGraphic" operator="in"/></filter>
<filter id="sp29" color-interpolation-filters="sRGB" x="0" y="0" width="100%" height="100%"><feTurbulence type="fractalNoise" baseFrequency="0.2" numOctaves="3" seed="49" result="n"/><feColorMatrix in="n" type="matrix" values="0 0 0 0 1.000  0 0 0 0 0.000  0 0 0 0 0.000  14 0 0 0 -5.88"/><feComposite in2="SourceGraphic" operator="in"/></filter>
<filter id="sp30" color-interpolation-filters="sRGB" x="0" y="0" width="100%" height="100%"><feTurbulence type="fractalNoise" baseFrequency="0.18" numOctaves="3" seed="20" result="n"/><feColorMatrix in="n" type="matrix" values="0 0 0 0 1.000  0 0 0 0 0.000  0 0 0 0 0.000  14 0 0 0 -7.84"/><feComposite in2="SourceGraphic" operator="in"/></filter>
<filter id="sp31" color-interpolation-filters="sRGB" x="0" y="0" width="100%" height="100%"><feTurbulence type="fractalNoise" baseFrequency="0.2" numOctaves="3" seed="21" result="n"/><feColorMatrix in="n" type="matrix" values="0 0 0 0 1.000  0 0 0 0 0.000  0 0 0 0 0.000  14 0 0 0 -7.70"/><feComposite in2="SourceGraphic" operator="in"/></filter>
<filter id="sp32" color-interpolation-filters="sRGB" x="0" y="0" width="100%" height="100%"><feTurbulence type="fractalNoise" baseFrequency="0.2" numOctaves="3" seed="22" result="n"/><feColorMatrix in="n" type="matrix" values="0 0 0 0 1.000  0 0 0 0 0.000  0 0 0 0 0.000  14 0 0 0 -8.40"/><feComposite in2="SourceGraphic" operator="in"/></filter>
<filter id="sp33" color-interpolation-filters="sRGB" x="0" y="0" width="100%" height="100%"><feTurbulence type="fractalNoise" baseFrequency="0.3" numOctaves="3" seed="23" result="n"/><feColorMatrix in="n" type="matrix" values="0 0 0 0 1.000  0 0 0 0 0.000  0 0 0 0 0.000  14 0 0 0 -9.66"/><feComposite in2="SourceGraphic" operator="in"/></filter>
<filter id="sp34" color-interpolation-filters="sRGB" x="0" y="0" width="100%" height="100%"><feTurbulence type="fractalNoise" baseFrequency="0.3" numOctaves="3" seed="24" result="n"/><feColorMatrix in="n" type="matrix" values="0 0 0 0 1.000  0 0 0 0 0.000  0 0 0 0 0.000  14 0 0 0 -9.66"/><feComposite in2="SourceGraphic" operator="in"/></filter>
<filter id="sp35" color-interpolation-filters="sRGB" x="0" y="0" width="100%" height="100%"><feTurbulence type="fractalNoise" baseFrequency="0.2" numOctaves="3" seed="25" result="n"/><feColorMatrix in="n" type="matrix" values="0 0 0 0 1.000  0 0 0 0 0.000  0 0 0 0 0.000  14 0 0 0 -9.10"/><feComposite in2="SourceGraphic" operator="in"/></filter>
<filter id="sp36" color-interpolation-filters="sRGB" x="0" y="0" width="100%" height="100%"><feTurbulence type="fractalNoise" baseFrequency="0.3" numOctaves="3" seed="80" result="n"/><feColorMatrix in="n" type="matrix" values="0 0 0 0 1.000  0 0 0 0 0.000  0 0 0 0 0.000  14 0 0 0 -7.00"/><feComposite in2="SourceGraphic" operator="in"/></filter>
<filter id="sp37" color-interpolation-filters="sRGB" x="0" y="0" width="100%" height="100%"><feTurbulence type="fractalNoise" baseFrequency="0.3" numOctaves="3" seed="81" result="n"/><feColorMatrix in="n" type="matrix" values="0 0 0 0 1.000  0 0 0 0 0.000  0 0 0 0 0.000  14 0 0 0 -7.00"/><feComposite in2="SourceGraphic" operator="in"/></filter>
<filter id="sp38" color-interpolation-filters="sRGB" x="0" y="0" width="100%" height="100%"><feTurbulence type="fractalNoise" baseFrequency="0.3" numOctaves="3" seed="82" result="n"/><feColorMatrix in="n" type="matrix" values="0 0 0 0 1.000  0 0 0 0 0.000  0 0 0 0 0.000  14 0 0 0 -7.00"/><feComposite in2="SourceGraphic" operator="in"/></filter>
<filter id="sp39" color-interpolation-filters="sRGB" x="0" y="0" width="100%" height="100%"><feTurbulence type="fractalNoise" baseFrequency="0.3" numOctaves="3" seed="83" result="n"/><feColorMatrix in="n" type="matrix" values="0 0 0 0 1.000  0 0 0 0 0.000  0 0 0 0 0.000  14 0 0 0 -7.00"/><feComposite in2="SourceGraphic" operator="in"/></filter>
<filter id="sp40" color-interpolation-filters="sRGB" x="0" y="0" width="100%" height="100%"><feTurbulence type="fractalNoise" baseFrequency="0.3" numOctaves="3" seed="84" result="n"/><feColorMatrix in="n" type="matrix" values="0 0 0 0 1.000  0 0 0 0 0.000  0 0 0 0 0.000  14 0 0 0 -7.00"/><feComposite in2="SourceGraphic" operator="in"/></filter>
<filter id="sp41" color-interpolation-filters="sRGB" x="0" y="0" width="100%" height="100%"><feTurbulence type="fractalNoise" baseFrequency="0.3" numOctaves="3" seed="85" result="n"/><feColorMatrix in="n" type="matrix" values="0 0 0 0 1.000  0 0 0 0 0.000  0 0 0 0 0.000  14 0 0 0 -7.00"/><feComposite in2="SourceGraphic" operator="in"/></filter>
<filter id="sp42" color-interpolation-filters="sRGB" x="0" y="0" width="100%" height="100%"><feTurbulence type="fractalNoise" baseFrequency="0.3" numOctaves="3" seed="86" result="n"/><feColorMatrix in="n" type="matrix" values="0 0 0 0 1.000  0 0 0 0 0.000  0 0 0 0 0.000  14 0 0 0 -7.00"/><feComposite in2="SourceGraphic" operator="in"/></filter>
<filter id="sp43" color-interpolation-filters="sRGB" x="0" y="0" width="100%" height="100%"><feTurbulence type="fractalNoise" baseFrequency="0.3" numOctaves="3" seed="87" result="n"/><feColorMatrix in="n" type="matrix" values="0 0 0 0 1.000  0 0 0 0 0.000  0 0 0 0 0.000  14 0 0 0 -7.00"/><feComposite in2="SourceGraphic" operator="in"/></filter>
<filter id="sp44" color-interpolation-filters="sRGB" x="0" y="0" width="100%" height="100%"><feTurbulence type="fractalNoise" baseFrequency="0.3" numOctaves="3" seed="88" result="n"/><feColorMatrix in="n" type="matrix" values="0 0 0 0 1.000  0 0 0 0 0.000  0 0 0 0 0.000  14 0 0 0 -7.00"/><feComposite in2="SourceGraphic" operator="in"/></filter>
<filter id="sp45" color-interpolation-filters="sRGB" x="0" y="0" width="100%" height="100%"><feTurbulence type="fractalNoise" baseFrequency="0.3" numOctaves="3" seed="89" result="n"/><feColorMatrix in="n" type="matrix" values="0 0 0 0 1.000  0 0 0 0 0.000  0 0 0 0 0.000  14 0 0 0 -7.00"/><feComposite in2="SourceGraphic" operator="in"/></filter>
<filter id="sp46" color-interpolation-filters="sRGB" x="0" y="0" width="100%" height="100%"><feTurbulence type="fractalNoise" baseFrequency="0.3" numOctaves="3" seed="90" result="n"/><feColorMatrix in="n" type="matrix" values="0 0 0 0 1.000  0 0 0 0 0.000  0 0 0 0 0.000  14 0 0 0 -7.00"/><feComposite in2="SourceGraphic" operator="in"/></filter>
<filter id="sp47" color-interpolation-filters="sRGB" x="0" y="0" width="100%" height="100%"><feTurbulence type="fractalNoise" baseFrequency="0.25" numOctaves="3" seed="60" result="n"/><feColorMatrix in="n" type="matrix" values="0 0 0 0 1.000  0 0 0 0 0.000  0 0 0 0 0.000  14 0 0 0 -7.00"/><feComposite in2="SourceGraphic" operator="in"/></filter>
<filter id="sp48" color-interpolation-filters="sRGB" x="0" y="0" width="100%" height="100%"><feTurbulence type="fractalNoise" baseFrequency="0.25" numOctaves="3" seed="61" result="n"/><feColorMatrix in="n" type="matrix" values="0 0 0 0 1.000  0 0 0 0 0.000  0 0 0 0 0.000  14 0 0 0 -7.00"/><feComposite in2="SourceGraphic" operator="in"/></filter>
<filter id="sp49" color-interpolation-filters="sRGB" x="0" y="0" width="100%" height="100%"><feTurbulence type="fractalNoise" baseFrequency="0.25" numOctaves="3" seed="62" result="n"/><feColorMatrix in="n" type="matrix" values="0 0 0 0 1.000  0 0 0 0 0.000  0 0 0 0 0.000  14 0 0 0 -7.00"/><feComposite in2="SourceGraphic" operator="in"/></filter>
<filter id="sp50" color-interpolation-filters="sRGB" x="0" y="0" width="100%" height="100%"><feTurbulence type="fractalNoise" baseFrequency="0.25" numOctaves="3" seed="63" result="n"/><feColorMatrix in="n" type="matrix" values="0 0 0 0 1.000  0 0 0 0 0.000  0 0 0 0 0.000  14 0 0 0 -7.00"/><feComposite in2="SourceGraphic" operator="in"/></filter>
<filter id="sp51" color-interpolation-filters="sRGB" x="0" y="0" width="100%" height="100%"><feTurbulence type="fractalNoise" baseFrequency="0.25" numOctaves="3" seed="64" result="n"/><feColorMatrix in="n" type="matrix" values="0 0 0 0 1.000  0 0 0 0 0.000  0 0 0 0 0.000  14 0 0 0 -7.00"/><feComposite in2="SourceGraphic" operator="in"/></filter>
<filter id="sp52" color-interpolation-filters="sRGB" x="0" y="0" width="100%" height="100%"><feTurbulence type="fractalNoise" baseFrequency="0.25" numOctaves="3" seed="65" result="n"/><feColorMatrix in="n" type="matrix" values="0 0 0 0 1.000  0 0 0 0 0.000  0 0 0 0 0.000  14 0 0 0 -7.00"/><feComposite in2="SourceGraphic" operator="in"/></filter>
<filter id="sp53" color-interpolation-filters="sRGB" x="0" y="0" width="100%" height="100%"><feTurbulence type="fractalNoise" baseFrequency="0.25" numOctaves="3" seed="66" result="n"/><feColorMatrix in="n" type="matrix" values="0 0 0 0 1.000  0 0 0 0 0.000  0 0 0 0 0.000  14 0 0 0 -7.00"/><feComposite in2="SourceGraphic" operator="in"/></filter>
<filter id="sp54" color-interpolation-filters="sRGB" x="0" y="0" width="100%" height="100%"><feTurbulence type="fractalNoise" baseFrequency="0.25" numOctaves="3" seed="67" result="n"/><feColorMatrix in="n" type="matrix" values="0 0 0 0 1.000  0 0 0 0 0.000  0 0 0 0 0.000  14 0 0 0 -7.00"/><feComposite in2="SourceGraphic" operator="in"/></filter>
<filter id="sp55" color-interpolation-filters="sRGB" x="0" y="0" width="100%" height="100%"><feTurbulence type="fractalNoise" baseFrequency="0.25" numOctaves="3" seed="68" result="n"/><feColorMatrix in="n" type="matrix" values="0 0 0 0 1.000  0 0 0 0 0.000  0 0 0 0 0.000  14 0 0 0 -7.00"/><feComposite in2="SourceGraphic" operator="in"/></filter>
<filter id="sp56" color-interpolation-filters="sRGB" x="0" y="0" width="100%" height="100%"><feTurbulence type="fractalNoise" baseFrequency="0.2" numOctaves="3" seed="27" result="n"/><feColorMatrix in="n" type="matrix" values="0 0 0 0 1.000  0 0 0 0 0.000  0 0 0 0 0.000  14 0 0 0 -8.40"/><feComposite in2="SourceGraphic" operator="in"/></filter>
<filter id="sp57" color-interpolation-filters="sRGB" x="0" y="0" width="100%" height="100%"><feTurbulence type="fractalNoise" baseFrequency="0.45" numOctaves="3" seed="30" result="n"/><feColorMatrix in="n" type="matrix" values="0 0 0 0 0.188  0 0 0 0 0.251  0 0 0 0 0.847  14 0 0 0 -5.88"/><feComposite in2="SourceGraphic" operator="in"/></filter>
<filter id="sp58" color-interpolation-filters="sRGB" x="0" y="0" width="100%" height="100%"><feTurbulence type="fractalNoise" baseFrequency="0.4" numOctaves="3" seed="31" result="n"/><feColorMatrix in="n" type="matrix" values="0 0 0 0 0.878  0 0 0 0 0.251  0 0 0 0 0.125  14 0 0 0 -8.12"/><feComposite in2="SourceGraphic" operator="in"/></filter>
<filter id="sp59" color-interpolation-filters="sRGB" x="0" y="0" width="100%" height="100%"><feTurbulence type="fractalNoise" baseFrequency="0.5" numOctaves="3" seed="38" result="n"/><feColorMatrix in="n" type="matrix" values="0 0 0 0 0.000  0 0 0 0 0.000  0 0 0 0 1.000  14 0 0 0 -5.60"/><feComposite in2="SourceGraphic" operator="in"/></filter>
<filter id="sp60" color-interpolation-filters="sRGB" x="0" y="0" width="100%" height="100%"><feTurbulence type="fractalNoise" baseFrequency="0.45" numOctaves="3" seed="39" result="n"/><feColorMatrix in="n" type="matrix" values="0 0 0 0 0.000  0 0 0 0 0.000  0 0 0 0 1.000  14 0 0 0 -5.04"/><feComposite in2="SourceGraphic" operator="in"/></filter>
<filter id="sp61" color-interpolation-filters="sRGB" x="0" y="0" width="100%" height="100%"><feTurbulence type="fractalNoise" baseFrequency="0.35" numOctaves="3" seed="40" result="n"/><feColorMatrix in="n" type="matrix" values="0 0 0 0 0.000  0 0 0 0 0.000  0 0 0 0 1.000  14 0 0 0 -7.00"/><feComposite in2="SourceGraphic" operator="in"/></filter>
<filter id="sp62" color-interpolation-filters="sRGB" x="0" y="0" width="100%" height="100%"><feTurbulence type="fractalNoise" baseFrequency="0.2" numOctaves="3" seed="32" result="n"/><feColorMatrix in="n" type="matrix" values="0 0 0 0 0.000  0 0 0 0 0.000  0 0 0 0 1.000  14 0 0 0 -6.30"/><feComposite in2="SourceGraphic" operator="in"/></filter>
<filter id="sp63" color-interpolation-filters="sRGB" x="0" y="0" width="100%" height="100%"><feTurbulence type="fractalNoise" baseFrequency="0.2" numOctaves="3" seed="33" result="n"/><feColorMatrix in="n" type="matrix" values="0 0 0 0 0.000  0 0 0 0 0.000  0 0 0 0 1.000  14 0 0 0 -5.60"/><feComposite in2="SourceGraphic" operator="in"/></filter>
<filter id="sp64" color-interpolation-filters="sRGB" x="0" y="0" width="100%" height="100%"><feTurbulence type="fractalNoise" baseFrequency="0.35" numOctaves="3" seed="34" result="n"/><feColorMatrix in="n" type="matrix" values="0 0 0 0 0.000  0 0 0 0 0.000  0 0 0 0 1.000  14 0 0 0 -9.52"/><feComposite in2="SourceGraphic" operator="in"/></filter>
<filter id="sp65" color-interpolation-filters="sRGB" x="0" y="0" width="100%" height="100%"><feTurbulence type="fractalNoise" baseFrequency="0.2" numOctaves="3" seed="35" result="n"/><feColorMatrix in="n" type="matrix" values="0 0 0 0 0.000  0 0 0 0 0.000  0 0 0 0 1.000  14 0 0 0 -6.30"/><feComposite in2="SourceGraphic" operator="in"/></filter>
<filter id="sp66" color-interpolation-filters="sRGB" x="0" y="0" width="100%" height="100%"><feTurbulence type="fractalNoise" baseFrequency="0.2" numOctaves="3" seed="36" result="n"/><feColorMatrix in="n" type="matrix" values="0 0 0 0 0.000  0 0 0 0 0.000  0 0 0 0 1.000  14 0 0 0 -7.00"/><feComposite in2="SourceGraphic" operator="in"/></filter>
<filter id="sp67" color-interpolation-filters="sRGB" x="0" y="0" width="100%" height="100%"><feTurbulence type="fractalNoise" baseFrequency="0.2" numOctaves="3" seed="37" result="n"/><feColorMatrix in="n" type="matrix" values="0 0 0 0 0.000  0 0 0 0 0.000  0 0 0 0 1.000  14 0 0 0 -7.00"/><feComposite in2="SourceGraphic" operator="in"/></filter>
<filter id="sp68" color-interpolation-filters="sRGB" x="0" y="0" width="100%" height="100%"><feTurbulence type="fractalNoise" baseFrequency="0.2" numOctaves="3" seed="41" result="n"/><feColorMatrix in="n" type="matrix" values="0 0 0 0 1.000  0 0 0 0 1.000  0 0 0 0 0.000  14 0 0 0 -7.70"/><feComposite in2="SourceGraphic" operator="in"/></filter>
<filter id="sp69" color-interpolation-filters="sRGB" x="0" y="0" width="100%" height="100%"><feTurbulence type="fractalNoise" baseFrequency="0.2" numOctaves="3" seed="43" result="n"/><feColorMatrix in="n" type="matrix" values="0 0 0 0 1.000  0 0 0 0 1.000  0 0 0 0 0.000  14 0 0 0 -8.68"/><feComposite in2="SourceGraphic" operator="in"/></filter>
<filter id="sp70" color-interpolation-filters="sRGB" x="0" y="0" width="100%" height="100%"><feTurbulence type="fractalNoise" baseFrequency="0.3" numOctaves="3" seed="51" result="n"/><feColorMatrix in="n" type="matrix" values="0 0 0 0 1.000  0 0 0 0 1.000  0 0 0 0 0.000  14 0 0 0 -7.00"/><feComposite in2="SourceGraphic" operator="in"/></filter>
<filter id="sp71" color-interpolation-filters="sRGB" x="0" y="0" width="100%" height="100%"><feTurbulence type="fractalNoise" baseFrequency="0.3" numOctaves="3" seed="52" result="n"/><feColorMatrix in="n" type="matrix" values="0 0 0 0 0.616  0 0 0 0 0.992  0 0 0 0 0.608  14 0 0 0 -7.00"/><feComposite in2="SourceGraphic" operator="in"/></filter>
<filter id="sp72" color-interpolation-filters="sRGB" x="0" y="0" width="100%" height="100%"><feTurbulence type="fractalNoise" baseFrequency="0.3" numOctaves="3" seed="42" result="n"/><feColorMatrix in="n" type="matrix" values="0 0 0 0 1.000  0 0 0 0 1.000  0 0 0 0 0.000  14 0 0 0 -5.88"/><feComposite in2="SourceGraphic" operator="in"/></filter>
<filter id="sp73" color-interpolation-filters="sRGB" x="0" y="0" width="100%" height="100%"><feTurbulence type="fractalNoise" baseFrequency="0.2" numOctaves="3" seed="44" result="n"/><feColorMatrix in="n" type="matrix" values="0 0 0 0 1.000  0 0 0 0 1.000  0 0 0 0 0.000  14 0 0 0 -6.30"/><feComposite in2="SourceGraphic" operator="in"/></filter>
<filter id="sp74" color-interpolation-filters="sRGB" x="0" y="0" width="100%" height="100%"><feTurbulence type="fractalNoise" baseFrequency="0.2" numOctaves="3" seed="45" result="n"/><feColorMatrix in="n" type="matrix" values="0 0 0 0 1.000  0 0 0 0 1.000  0 0 0 0 0.000  14 0 0 0 -7.00"/><feComposite in2="SourceGraphic" operator="in"/></filter>
<filter id="sp75" color-interpolation-filters="sRGB" x="0" y="0" width="100%" height="100%"><feTurbulence type="fractalNoise" baseFrequency="0.3" numOctaves="3" seed="55" result="n"/><feColorMatrix in="n" type="matrix" values="0 0 0 0 0.616  0 0 0 0 0.992  0 0 0 0 0.608  14 0 0 0 -8.40"/><feComposite in2="SourceGraphic" operator="in"/></filter>
<filter id="sp76" color-interpolation-filters="sRGB" x="0" y="0" width="100%" height="100%"><feTurbulence type="fractalNoise" baseFrequency="0.3" numOctaves="3" seed="47" result="n"/><feColorMatrix in="n" type="matrix" values="0 0 0 0 1.000  0 0 0 0 1.000  0 0 0 0 0.000  14 0 0 0 -8.68"/><feComposite in2="SourceGraphic" operator="in"/></filter>
<filter id="sp77" color-interpolation-filters="sRGB" x="0" y="0" width="100%" height="100%"><feTurbulence type="fractalNoise" baseFrequency="0.3" numOctaves="3" seed="56" result="n"/><feColorMatrix in="n" type="matrix" values="0 0 0 0 1.000  0 0 0 0 0.000  0 0 0 0 0.000  14 0 0 0 -8.40"/><feComposite in2="SourceGraphic" operator="in"/></filter>
<filter id="sp78" color-interpolation-filters="sRGB" x="0" y="0" width="100%" height="100%"><feTurbulence type="fractalNoise" baseFrequency="0.3" numOctaves="3" seed="53" result="n"/><feColorMatrix in="n" type="matrix" values="0 0 0 0 1.000  0 0 0 0 1.000  0 0 0 0 0.000  14 0 0 0 -7.00"/><feComposite in2="SourceGraphic" operator="in"/></filter>
<filter id="sp79" color-interpolation-filters="sRGB" x="0" y="0" width="100%" height="100%"><feTurbulence type="fractalNoise" baseFrequency="0.3" numOctaves="3" seed="54" result="n"/><feColorMatrix in="n" type="matrix" values="0 0 0 0 0.000  0 0 0 0 0.000  0 0 0 0 1.000  14 0 0 0 -7.00"/><feComposite in2="SourceGraphic" operator="in"/></filter>
</defs>
<g clip-path="url(#mclip)">
<rect x="55.5" y="314.6" width="606.3" height="267.2" fill="#968068"/>
<rect x="55.5" y="314.6" width="606.3" height="267.2" filter="url(#sat)" opacity="0.9"/>
<polygon points="438.0,352.0 458.0,348.0 476.0,356.0 478.0,372.0 468.0,385.0 452.0,383.0 440.0,372.0" fill="#50603c" opacity="0.5"/>
<polygon points="140.0,455.0 150.0,445.0 165.0,440.0 185.0,438.0 200.0,445.0 185.0,452.0 165.0,458.0 150.0,470.0 142.0,475.0" fill="#55603e" opacity="0.55"/>
<polygon points="195.0,430.0 215.0,425.0 230.0,428.0 225.0,440.0 205.0,445.0" fill="#5a6440" opacity="0.4"/>
<polygon points="505.0,395.0 530.0,380.0 540.0,385.0 520.0,398.0" fill="#b9ab90" opacity="0.5"/>
<polygon points="120,350 135,352 150,380 165,405 170,420 150,420 140,400 128,375" fill="#4a4a44" opacity="0.8"/>
<polygon points="128.0,355.0 136.0,356.0 140.0,372.0 132.0,372.0" fill="#ffff00"/>
<polygon points="135.0,395.0 150.0,392.0 160.0,410.0 150.0,420.0 138.0,418.0" fill="#ffff00"/>
<polygon points="445.4,512.5 461.7,505.3 472.0,510.4 480.1,530.9 478.1,543.1 465.8,541.1 457.7,551.3 451.5,556.4 445.4,555.4 444.4,530.9" fill="#35552e" opacity="1"/>
<polygon points="474.0,553.4 490.4,551.3 510.8,561.5 506.7,573.8 494.4,577.9 476.0,573.8 473.0,563.6" fill="#2f522b" opacity="1"/>
<polygon points="404.5,518.6 422.9,516.6 426.0,541.1 406.6,538.0" fill="#90a878" opacity="0.85"/>
<polygon points="386.0,549.0 400.4,549.0 398.4,561.5 386.0,559.5" fill="#3f6e35" opacity="0.9"/>
<polygon points="494.0,567.0 520.0,563.0 522.0,582.0 498.0,582.0" fill="#5d7248" opacity="0.9"/>
<polygon points="505.0,559.0 538.0,559.0 545.0,582.0 505.0,582.0" fill="#3e5c36" opacity="0.85"/>
<polygon points="230.0,552.0 282.0,548.0 288.0,582.0 232.0,582.0" fill="#c4b596" opacity="0.75"/>
<polygon points="403.0,480.0 445.0,480.0 443.0,510.0 430.0,545.0 405.0,545.0 400.0,520.0" fill="#9c9474" opacity="0.85"/>
<polygon points="445.0,480.0 490.0,482.0 495.0,500.0 480.0,505.0 470.0,508.0 445.0,512.0" fill="#a8a088" opacity="0.7"/>
<polygon points="400.0,545.0 445.0,556.0 470.0,560.0 470.0,582.0 400.0,582.0" fill="#908a70" opacity="0.45"/>
<polygon points="56.0,560.0 90.0,565.0 100.0,582.0 56.0,582.0" fill="#ad9a7c" opacity="0.6"/>
<polyline points="521.0,470.0 517.0,485.0 508.0,500.0 490.0,528.0 472.0,552.0 452.0,582.0" fill="none" stroke="#a3a39e" stroke-width="4" stroke-linecap="round" stroke-linejoin="round"/>
<polyline points="380.0,545.0 420.0,557.0 468.0,570.0" fill="none" stroke="#a09c94" stroke-width="1.8" stroke-linecap="round" stroke-linejoin="round"/>
<polyline points="205.0,552.0 300.0,548.0 350.0,555.0" fill="none" stroke="#a8a090" stroke-width="1.5" stroke-linecap="round" stroke-linejoin="round" opacity="0.6"/>
<g clip-path="url(#gclip)">
<rect x="55.5" y="314.6" width="606.3" height="267.2" fill="#9dfd9b"/>
<polygon points="200.0,490.0 260.0,465.0 330.0,455.0 400.0,447.0 470.0,428.0 505.0,410.0 540.0,380.0 565.0,345.0 580.0,315.0 650.0,315.0 610.0,360.0 570.0,410.0 520.0,440.0 470.0,458.0 410.0,470.0 350.0,478.0 290.0,488.0 240.0,500.0" fill="#fff" filter="url(#sp0)" opacity="0.9"/>
<polygon points="205.0,495.0 345.0,488.0 345.0,540.0 205.0,548.0" fill="#fff" filter="url(#sp1)" opacity="0.9"/>
<polygon points="56.0,440.0 130.0,440.0 130.0,480.0 56.0,480.0" fill="#fff" filter="url(#sp2)" opacity="0.8"/>
<polygon points="505.0,405.0 530.0,380.0 560.0,345.0 580.0,315.0 640.0,315.0 610.0,345.0 590.0,375.0 570.0,410.0 545.0,430.0 515.0,440.0" fill="#fff" filter="url(#sp3)" opacity="0.9"/>
<polygon points="330.0,452.0 400.0,442.0 450.0,430.0 490.0,415.0 510.0,405.0 540.0,380.0 560.0,350.0 580.0,320.0 610.0,320.0 590.0,355.0 565.0,395.0 540.0,420.0 505.0,440.0 470.0,455.0 420.0,466.0 370.0,472.0 330.0,474.0" fill="#fff" filter="url(#sp4)" opacity="0.9"/>
<polygon points="130.0,490.0 205.0,478.0 260.0,452.0 330.0,440.0 395.0,440.0 470.0,405.0 520.0,388.0 560.0,330.0 600.0,315.0 662.0,315.0 662.0,420.0 600.0,430.0 520.0,470.0 480.0,478.0 400.0,476.0 340.0,482.0 280.0,492.0 205.0,500.0 130.0,510.0" fill="#fff" filter="url(#sp5)" opacity="0.9"/>
<polygon points="74.0,452.0 100.0,449.0 125.0,455.0 127.0,478.0 115.0,487.0 95.0,486.0 76.0,478.0" fill="#fff" filter="url(#sp6)"/>
<polygon points="112.5,467.5 110.6,471.3 106.1,474.9 98.0,476.9 87.9,476.7 84.7,471.5 78.1,467.5 81.9,462.6 88.5,458.8 98.0,458.6 106.6,459.6 115.3,462.2" fill="#fff" filter="url(#sp7)"/>
<polygon points="104.5,495.4 103.3,498.0 101.5,499.6 99.3,499.8 97.0,500.0 95.3,498.0 95.0,495.4 95.8,493.0 96.9,490.5 99.3,491.0 101.8,490.4 102.9,493.0" fill="#fff" filter="url(#sp8)"/>
<polyline points="108.7,511.2 130.0,509.0 157.8,505.4 164.8,500.7 176.5,496.0" fill="none" stroke="#ff0000" stroke-width="2.2" stroke-linecap="round" stroke-linejoin="round"/>
<polyline points="82.0,519.0 110.0,517.0 145.0,515.0" fill="none" stroke="#ff0000" stroke-width="1.6" stroke-linecap="round" stroke-linejoin="round" opacity="0.8"/>
<polyline points="59.5,535.0 85.0,534.0 114.0,531.0" fill="none" stroke="#ff0000" stroke-width="1.6" stroke-linecap="round" stroke-linejoin="round" opacity="0.8"/>
<polyline points="204.0,505.0 212.0,500.0 220.0,496.0" fill="none" stroke="#ff0000" stroke-width="1.6" stroke-linecap="round" stroke-linejoin="round"/>
<polyline points="64.0,513.6 78.0,515.2" fill="none" stroke="#ff0000" stroke-width="2.2" stroke-linecap="round" stroke-linejoin="round"/>
<polygon points="80.5,532.0 81.2,534.7 76.1,536.0 71.0,537.5 66.4,535.6 60.3,534.8 59.4,532.0 60.8,529.3 66.4,528.4 71.0,527.5 75.9,528.2 80.6,529.5" fill="#fff" filter="url(#sp9)"/>
<polygon points="115.5,534.5 114.8,536.9 108.7,538.8 99.5,539.1 91.7,538.2 86.6,536.5 81.7,534.5 84.1,532.1 92.3,531.1 99.5,529.4 106.9,531.0 114.4,532.2" fill="#fff" filter="url(#sp10)"/>
<polyline points="115.7,543.0 140.0,544.0 164.8,545.0" fill="none" stroke="#ff0000" stroke-width="1.2" stroke-linecap="round" stroke-linejoin="round"/>
<polygon points="125.1,552.0 123.6,553.3 122.4,554.9 119.0,554.6 116.0,554.6 114.5,553.3 112.6,552.0 113.3,550.4 115.8,549.2 119.0,548.6 121.7,549.7 123.6,550.7" fill="#fff" filter="url(#sp11)"/>
<polygon points="162.0,518.0 182.0,516.0 182.0,526.0 162.0,526.0" fill="#fff" filter="url(#sp12)"/>
<polyline points="185.8,512.4 200.0,505.4 215.0,498.4 228.0,494.0" fill="none" stroke="#ff0000" stroke-width="1.3" stroke-linecap="round" stroke-linejoin="round"/>
<polygon points="56.0,445.0 205.0,480.0 205.0,548.0 56.0,548.0" fill="#fff" filter="url(#sp13)"/>
<polygon points="248.0,490.0 275.0,486.0 292.0,490.0 300.0,505.0 290.0,520.0 262.0,520.0 250.0,510.0" fill="#fff" filter="url(#sp14)"/>
<polygon points="232.0,492.0 250.0,492.0 250.0,500.0 232.0,500.0" fill="#fff" filter="url(#sp15)"/>
<polygon points="263.0,478.0 285.0,476.5 298.0,479.0 307.0,484.0 298.0,485.0 280.0,483.0 263.0,482.0" fill="#ff0000"/>
<polyline points="230.4,490.2 242.0,483.2 263.0,484.4 290.0,482.0" fill="none" stroke="#ff0000" stroke-width="1.2" stroke-linecap="round" stroke-linejoin="round"/>
<polyline points="200.0,505.4 228.0,498.4" fill="none" stroke="#ff0000" stroke-width="1.2" stroke-linecap="round" stroke-linejoin="round"/>
<polyline points="211.7,470.4 235.0,462.2 263.0,456.4 293.4,452.8 321.5,451.7 360.0,449.3" fill="none" stroke="#ff0000" stroke-width="1.2" stroke-linecap="round" stroke-linejoin="round" opacity="0.8"/>
<polygon points="233.2,504.2 232.1,505.8 230.9,507.7 228.0,507.6 225.5,507.2 224.1,505.8 223.5,504.2 223.9,502.6 225.3,501.0 228.0,501.0 230.0,501.8 231.5,502.8" fill="#fff" filter="url(#sp16)"/>
<polygon points="256.4,506.5 255.5,509.7 252.1,511.9 247.8,511.5 244.1,511.2 242.1,508.9 240.2,506.5 241.1,503.7 243.3,500.8 247.8,500.2 251.3,502.2 254.0,504.0" fill="#fff" filter="url(#sp17)"/>
<polygon points="276.9,506.6 276.5,510.7 274.9,512.3 273.5,515.8 271.7,513.9 270.1,511.2 270.0,506.6 270.3,502.3 272.1,500.8 273.5,497.3 275.1,499.9 276.9,502.1" fill="#fff" filter="url(#sp18)"/>
<polygon points="306.4,503.0 305.3,505.0 303.5,507.2 299.2,508.0 295.8,506.5 291.9,505.4 290.2,503.0 293.2,501.1 295.0,498.9 299.2,498.2 303.7,498.7 305.0,501.2" fill="#fff" filter="url(#sp19)"/>
<polyline points="309.8,486.7 335.0,480.0 360.0,475.0" fill="none" stroke="#ff0000" stroke-width="1.2" stroke-linecap="round" stroke-linejoin="round"/>
<polygon points="205.0,488.0 345.0,488.0 345.0,545.0 205.0,545.0" fill="#fff" filter="url(#sp20)"/>
<polyline points="355.0,476.0 400.0,476.5 448.0,473.4 464.8,466.4 485.8,457.0 504.5,443.0 520.0,430.0 541.9,417.0 558.0,412.0" fill="none" stroke="#ff0000" stroke-width="1.5" stroke-linecap="round" stroke-linejoin="round"/>
<polyline points="563.8,404.0 578.0,386.0 590.0,367.0 597.5,356.0 612.0,340.0 627.4,323.4 636.0,315.0" fill="none" stroke="#ff0000" stroke-width="1.4" stroke-linecap="round" stroke-linejoin="round"/>
<polyline points="411.0,445.0 453.0,432.6 486.0,417.4 506.8,405.7 515.0,402.0 528.0,396.0" fill="none" stroke="#ff0000" stroke-width="1.3" stroke-linecap="round" stroke-linejoin="round"/>
<polyline points="500.0,408.0 512.0,399.0 526.0,386.0 545.0,367.0 556.0,352.0" fill="none" stroke="#ff0000" stroke-width="1.6" stroke-linecap="round" stroke-linejoin="round"/>
<polyline points="556.0,344.5 572.0,333.2 585.0,322.0" fill="none" stroke="#ff0000" stroke-width="1.5" stroke-linecap="round" stroke-linejoin="round"/>
<polygon points="599.3,391.9 598.4,396.0 596.9,400.7 593.2,400.7 590.2,398.8 586.9,396.8 587.0,391.9 587.5,387.4 590.4,385.3 593.2,383.9 596.5,383.8 598.7,387.5" fill="#fff" filter="url(#sp21)"/>
<polygon points="611.5,355.0 611.8,356.7 609.3,357.4 607.0,357.7 604.4,357.7 602.8,356.5 602.8,355.0 602.5,353.4 604.4,352.3 607.0,352.3 609.2,352.7 610.5,353.8" fill="#fff" filter="url(#sp22)"/>
<polygon points="607.8,370.3 607.3,372.5 606.1,373.8 604.7,375.0 603.1,374.5 602.6,372.1 601.9,370.3 601.8,367.8 603.3,366.6 604.7,366.0 606.2,366.5 607.3,368.1" fill="#fff" filter="url(#sp23)"/>
<polygon points="613.0,416.9 611.3,418.9 608.5,420.3 605.0,421.5 601.8,420.0 597.1,419.4 597.4,416.9 598.1,414.7 601.0,413.1 605.0,413.3 608.5,413.6 612.9,414.4" fill="#fff" filter="url(#sp24)"/>
<polygon points="566.0,415.5 566.3,416.7 564.4,417.8 561.5,417.9 558.8,417.7 557.2,416.6 555.4,415.5 557.4,414.4 558.8,413.4 561.5,413.1 563.7,413.7 565.4,414.5" fill="#fff" filter="url(#sp25)"/>
<polygon points="621.8,513.5 618.2,518.4 612.0,522.5 602.0,522.0 591.2,523.4 585.0,518.7 579.5,513.5 586.1,508.7 590.6,503.2 602.0,502.5 612.8,503.7 619.2,508.3" fill="#fff" filter="url(#sp26)"/>
<polygon points="612.1,513.5 610.4,516.6 606.4,518.5 602.0,520.4 597.2,518.9 593.3,516.8 593.8,513.5 594.4,510.6 596.4,507.2 602.0,507.2 606.0,509.0 611.7,509.9" fill="#fff" filter="url(#sp27)"/>
<polygon points="662.9,541.0 660.1,547.7 654.6,553.4 645.5,555.6 636.1,553.8 629.1,548.5 629.1,541.0 633.0,535.3 638.4,531.3 645.5,526.9 652.3,531.7 661.0,534.0" fill="#fff" filter="url(#sp28)"/>
<polygon points="653.2,540.5 652.9,543.9 650.4,547.5 645.0,548.5 640.0,546.9 637.1,543.9 635.6,540.5 636.1,536.7 640.2,534.2 645.0,533.7 650.5,533.4 653.0,537.0" fill="#fff" filter="url(#sp29)"/>
<polygon points="580.4,542.0 579.1,545.3 573.4,547.8 565.5,547.7 556.1,548.9 550.8,545.6 547.6,542.0 551.5,538.6 556.7,535.5 565.5,534.9 574.3,535.5 580.3,538.4" fill="#fff" filter="url(#sp30)"/>
<polygon points="603.0,554.0 662.0,554.0 662.0,582.0 603.0,582.0" fill="#fff" filter="url(#sp31)"/>
<polygon points="540.1,497.0 537.9,504.0 534.1,508.3 529.5,514.2 525.0,508.1 519.2,505.5 519.5,497.0 520.6,489.7 523.9,483.0 529.5,484.5 534.0,485.8 537.2,490.7" fill="#fff" filter="url(#sp32)"/>
<polygon points="505.0,420.0 662.0,420.0 662.0,560.0 505.0,560.0" fill="#fff" filter="url(#sp33)"/>
<polygon points="570.0,315.0 662.0,315.0 662.0,420.0 570.0,420.0" fill="#fff" filter="url(#sp34)"/>
<polygon points="468.0,430.0 460.8,434.4 450.3,438.2 432.5,440.0 416.5,437.4 402.1,434.7 397.0,430.0 398.4,424.7 411.4,420.3 432.5,421.7 447.9,422.9 464.7,425.0" fill="#fff" filter="url(#sp35)"/>
<polygon points="565.8,415.5 565.5,416.8 563.9,417.3 562.5,417.8 560.8,417.6 559.3,416.8 559.2,415.5 559.1,414.1 560.5,413.0 562.5,413.4 563.9,413.7 565.2,414.4" fill="#fff" filter="url(#sp36)"/>
<polygon points="562.7,425.5 561.7,426.6 559.8,427.3 557.5,427.9 554.5,427.9 553.5,426.6 551.5,425.5 553.2,424.4 554.8,423.3 557.5,422.6 559.9,423.6 562.1,424.3" fill="#fff" filter="url(#sp37)"/>
<polygon points="593.9,398.5 593.9,400.4 592.1,401.2 590.5,401.7 589.1,401.0 588.0,399.9 586.6,398.5 587.5,396.8 589.1,396.0 590.5,395.4 592.3,395.3 593.6,396.7" fill="#fff" filter="url(#sp38)"/>
<polygon points="630.6,400.5 629.8,401.6 628.5,402.4 626.5,403.3 624.0,403.0 622.2,401.9 621.9,400.5 622.3,399.2 624.6,398.7 626.5,398.2 628.8,398.3 630.9,399.1" fill="#fff" filter="url(#sp39)"/>
<polygon points="615.0,417.0 612.9,418.8 609.7,420.1 605.5,421.2 601.6,419.8 596.1,419.3 596.5,417.0 597.3,415.0 600.7,413.5 605.5,413.7 609.7,414.0 614.9,414.7" fill="#fff" filter="url(#sp40)"/>
<polygon points="660.2,423.0 656.1,426.6 653.5,430.9 646.0,430.9 638.7,430.8 633.8,427.3 634.0,423.0 634.9,419.0 639.1,415.6 646.0,414.7 652.8,415.7 655.4,419.6" fill="#fff" filter="url(#sp41)"/>
<polygon points="548.2,463.5 548.3,465.2 546.9,466.8 544.5,466.8 541.9,467.0 540.7,465.2 540.6,463.5 540.2,461.5 542.4,460.6 544.5,459.9 546.4,460.9 548.6,461.7" fill="#fff" filter="url(#sp42)"/>
<polygon points="621.5,439.5 621.8,442.0 620.1,443.1 618.5,444.6 616.8,443.3 615.7,441.6 615.0,439.5 616.0,437.7 617.0,436.3 618.5,435.7 620.4,435.2 621.7,437.2" fill="#fff" filter="url(#sp43)"/>
<polygon points="653.4,454.5 653.0,456.1 651.6,457.3 649.5,457.8 647.3,457.4 645.5,456.3 645.5,454.5 645.5,452.7 647.4,451.6 649.5,451.5 651.9,451.3 653.9,452.5" fill="#fff" filter="url(#sp44)"/>
<polygon points="588.7,450.5 589.0,451.9 587.4,452.9 585.5,452.7 583.7,452.8 583.0,451.5 582.6,450.5 582.6,449.3 583.6,448.2 585.5,448.4 587.1,448.5 588.9,449.1" fill="#fff" filter="url(#sp45)"/>
<polygon points="621.8,454.5 621.7,455.9 619.4,456.5 617.0,456.6 614.2,456.9 612.7,455.7 611.5,454.5 612.2,453.1 614.4,452.3 617.0,452.3 619.4,452.5 621.4,453.2" fill="#fff" filter="url(#sp46)"/>
<polygon points="615.6,355.5 614.6,357.4 612.2,358.8 609.0,358.7 605.8,358.7 603.8,357.2 603.4,355.5 603.8,353.8 606.2,352.7 609.0,352.2 611.7,352.8 613.3,354.0" fill="#fff" filter="url(#sp47)"/>
<polygon points="628.9,350.5 628.6,352.4 626.2,353.7 623.0,354.1 619.8,353.7 618.6,352.0 618.1,350.5 617.9,348.8 619.9,347.4 623.0,346.9 626.2,347.2 627.3,349.1" fill="#fff" filter="url(#sp48)"/>
<polygon points="645.8,361.0 644.8,364.9 641.0,366.1 638.0,368.6 634.9,366.3 632.3,364.3 632.2,361.0 632.4,357.8 634.8,355.5 638.0,354.6 641.8,354.3 644.4,357.3" fill="#fff" filter="url(#sp49)"/>
<polygon points="640.1,338.5 639.9,340.5 638.9,341.2 638.0,342.4 637.1,341.3 636.0,340.5 636.0,338.5 636.1,336.6 637.1,335.7 638.0,335.7 638.8,336.0 639.4,337.1" fill="#fff" filter="url(#sp50)"/>
<polygon points="654.4,369.5 652.5,371.0 651.5,372.8 648.5,373.0 645.6,372.7 643.6,371.3 642.9,369.5 643.3,367.6 646.1,366.9 648.5,365.7 651.1,366.7 653.0,367.9" fill="#fff" filter="url(#sp51)"/>
<polygon points="630.6,400.5 629.8,401.6 628.5,402.4 626.5,403.3 624.0,403.0 622.2,401.9 621.9,400.5 622.3,399.2 624.6,398.7 626.5,398.2 628.8,398.3 630.9,399.1" fill="#fff" filter="url(#sp52)"/>
<polygon points="660.5,355.5 660.0,356.9 659.0,358.1 657.5,359.3 655.8,358.4 654.0,357.5 654.5,355.5 654.6,353.8 655.5,352.1 657.5,352.5 659.3,352.3 660.0,354.0" fill="#fff" filter="url(#sp53)"/>
<polygon points="618.0,375.0 617.0,376.3 616.1,377.8 614.0,377.9 612.1,377.4 611.2,376.2 610.5,375.0 611.0,373.7 612.3,372.8 614.0,372.0 615.9,372.5 617.2,373.6" fill="#fff" filter="url(#sp54)"/>
<polygon points="598.6,360.0 597.7,362.1 596.1,363.7 594.0,364.2 591.9,363.7 590.1,362.2 590.7,360.0 590.2,357.8 592.2,357.0 594.0,355.4 596.0,356.5 597.0,358.3" fill="#fff" filter="url(#sp55)"/>
<polygon points="580.1,430.0 575.8,434.4 570.2,437.6 562.5,441.2 553.5,439.0 545.6,435.6 543.8,430.0 550.3,426.0 553.1,420.7 562.5,419.5 571.6,421.0 578.9,424.6" fill="#fff" filter="url(#sp56)"/>
<polygon points="510.0,400.0 520.0,389.0 540.0,370.0 556.5,358.0 568.0,345.0 578.0,332.0 584.0,334.0 577.0,348.0 571.0,364.0 555.0,380.0 535.0,395.0 520.0,405.0 513.0,410.0" fill="#fff" filter="url(#sp57)"/>
<polygon points="510.0,400.0 520.0,389.0 540.0,370.0 556.5,358.0 568.0,345.0 578.0,332.0 584.0,334.0 577.0,348.0 571.0,364.0 555.0,380.0 535.0,395.0 520.0,405.0 513.0,410.0" fill="#fff" filter="url(#sp58)"/>
<polygon points="529.0,414.0 545.0,400.0 560.0,386.0 568.0,377.0 569.0,380.0 560.0,392.0 546.0,405.0 533.0,415.0" fill="#fff" filter="url(#sp59)"/>
<polygon points="561.0,410.0 568.0,400.0 576.0,388.0 584.0,377.0 591.0,364.0 594.0,362.0 592.0,372.0 586.0,385.0 579.0,396.0 570.0,406.0 564.0,411.0" fill="#fff" filter="url(#sp60)"/>
<polyline points="565.0,407.0 574.0,395.0 582.0,383.0 590.0,368.0" fill="none" stroke="#0000ff" stroke-width="2.6" stroke-linecap="round" stroke-linejoin="round"/>
<polygon points="575.0,336.0 590.0,322.0 597.0,315.0 603.0,315.0 590.0,330.0 580.0,342.0" fill="#fff" filter="url(#sp61)"/>
<polygon points="500.0,397.4 514.5,392.6 515.0,396.0 500.0,401.0" fill="#0000ff"/>
<polyline points="490.5,405.7 515.0,392.8" fill="none" stroke="#0000ff" stroke-width="1.8" stroke-linecap="round" stroke-linejoin="round"/>
<polygon points="88.0,441.0 100.0,440.0 110.0,446.0 108.0,456.0 96.0,455.0 90.0,450.0" fill="#0000ff"/>
<polygon points="64.0,430.0 80.0,433.0 81.0,440.0 66.0,440.0" fill="#fff" filter="url(#sp62)"/>
<polygon points="277.0,512.4 300.0,510.0 321.5,512.4 324.0,530.0 310.0,533.0 290.0,536.0 282.0,530.0" fill="#fff" filter="url(#sp63)"/>
<polygon points="205.0,488.0 345.0,488.0 345.0,545.0 205.0,545.0" fill="#fff" filter="url(#sp64)"/>
<polygon points="222.8,538.7 221.6,541.2 217.8,542.5 213.9,543.1 209.6,542.9 205.0,541.6 205.8,538.7 204.8,535.7 209.4,534.3 213.9,533.5 218.1,534.7 222.9,535.8" fill="#fff" filter="url(#sp65)"/>
<polyline points="300.4,479.7 309.8,475.0 319.0,468.0 333.0,461.0" fill="none" stroke="#0000ff" stroke-width="1.2" stroke-linecap="round" stroke-linejoin="round"/>
<polygon points="624.4,546.0 623.8,549.5 622.1,553.8 617.0,552.5 612.4,553.0 608.6,550.3 609.3,546.0 609.4,542.1 612.5,539.1 617.0,538.3 621.4,539.2 624.1,542.3" fill="#fff" filter="url(#sp66)"/>
<polygon points="568.3,490.0 567.1,492.6 566.2,495.1 564.5,496.2 562.8,495.1 561.7,492.8 561.6,490.0 561.4,487.0 563.0,485.5 564.5,483.5 566.0,485.6 567.6,486.9" fill="#fff" filter="url(#sp67)"/>
<polygon points="307.3,519.4 307.4,522.0 302.9,523.4 298.1,524.4 293.1,523.7 290.3,521.6 289.5,519.4 291.1,517.4 294.3,516.1 298.1,515.5 303.2,515.1 307.0,516.9" fill="#fff" filter="url(#sp68)"/>
<polygon points="624.4,546.0 623.8,549.5 622.1,553.8 617.0,552.5 612.4,553.0 608.6,550.3 609.3,546.0 609.4,542.1 612.5,539.1 617.0,538.3 621.4,539.2 624.1,542.3" fill="#fff" filter="url(#sp69)"/>
<polyline points="512.0,444.0 519.0,458.0 522.0,472.0 518.0,488.0 510.0,500.0 505.0,505.0" fill="none" stroke="#9a9a98" stroke-width="3.6" stroke-linecap="round" stroke-linejoin="round"/>
<polygon points="364.9,519.6 364.0,521.5 362.7,522.6 361.3,523.2 359.7,523.0 358.0,521.9 358.5,519.6 358.8,517.9 360.0,516.8 361.3,516.0 363.2,515.7 364.1,517.6" fill="#fff" filter="url(#sp70)"/>
</g>
<polygon points="345.0,492.0 362.0,492.0 366.0,500.0 362.0,516.0 350.0,518.0 344.0,505.0" fill="#fff" filter="url(#sp71)"/>
<polyline points="344.0,491.0 352.0,493.0 362.0,495.0" fill="none" stroke="#ff0000" stroke-width="2.2" stroke-linecap="round" stroke-linejoin="round"/>
<polygon points="339.0,535.0 360.0,537.0 388.0,535.0 392.0,538.0 386.0,545.0 360.0,546.0 339.0,544.0" fill="#fff" filter="url(#sp72)"/>
<polygon points="57.0,426.0 80.0,432.0 85.0,438.0 82.0,440.0 78.0,436.0 58.0,430.0" fill="#ffff00"/>
<polygon points="85.0,436.0 107.0,432.0 114.0,428.0 114.0,424.0 117.0,424.0 116.0,432.0 108.0,436.0 88.0,440.0" fill="#ffff00"/>
<polygon points="439.0,405.7 472.0,405.7 472.0,408.0 439.0,408.0" fill="#ffff00"/>
<polygon points="488.0,484.0 493.0,490.0 496.0,503.0 500.0,515.0 503.0,525.0 507.0,532.0 514.0,546.0 510.0,548.0 505.0,538.0 498.0,525.0 494.0,510.0 489.0,495.0 486.0,486.0" fill="#fff" filter="url(#sp73)"/>
<polygon points="537.0,563.0 560.0,566.0 570.0,572.0 568.0,580.0 540.0,580.0" fill="#fff" filter="url(#sp74)"/>
<polygon points="505.0,538.0 517.0,542.0 515.0,547.0 505.0,546.0" fill="#ffff00"/>
<polyline points="531.0,348.0 528.0,356.0 530.0,364.0 532.0,371.0" fill="none" stroke="#ffff00" stroke-width="2.2" stroke-linecap="round" stroke-linejoin="round"/>
<polygon points="300.0,437.0 320.0,428.0 345.0,423.0 362.0,424.0 364.0,432.0 345.0,440.0 320.0,444.0 300.0,445.0" fill="#fff" filter="url(#sp75)"/>
<polygon points="300.0,428.0 340.0,425.0 365.0,428.0 365.0,440.0 340.0,440.0 300.0,442.0" fill="#fff" filter="url(#sp76)"/>
<polygon points="350.4,426.5 350.1,429.1 345.9,430.7 341.0,432.5 336.0,430.8 330.7,429.5 328.8,426.5 330.3,423.4 335.2,421.5 341.0,420.3 345.9,422.3 348.7,424.3" fill="#fff" filter="url(#sp77)"/>
<polyline points="127.0,423.0 133.8,423.3 133.8,428.5 132.5,436.4 133.8,444.3 135.1,452.2 133.8,460.0 129.9,468.0 128.6,478.0 132.0,489.4 136.8,498.8 143.8,502.3 153.0,500.0 160.0,494.0 167.0,491.8 176.5,489.4 190.5,484.7 204.5,480.0 216.7,470.4 228.4,463.4 240.0,457.6 251.7,455.2 263.4,452.9 268.0,449.4 275.0,448.2 282.0,443.5 289.0,444.7 292.6,447.0 296.0,443.5 305.4,441.2 310.0,445.9 313.6,440.0 317.0,443.5 319.5,448.2 321.8,442.4 326.5,438.9 331.0,440.0 335.8,435.4 339.3,442.4 342.8,447.0 346.4,443.0 348.7,438.4 353.4,433.7 358.0,431.4 364.5,434.9 361.5,438.4 353.4,445.9 365.0,445.1 376.7,444.2 382.6,441.9 388.4,441.9 393.6,444.8 393.6,421.4 394.0,414.0 412.0,414.0 425.0,413.9 425.0,410.4 439.0,408.5 467.0,408.0 470.0,404.0 485.8,399.9 497.5,396.4 500.0,391.8 506.4,390.2 516.0,386.2 524.0,381.4 530.5,373.4 537.0,368.5 534.5,362.0 537.0,357.3 541.8,352.5 548.2,347.7 555.0,339.0 560.0,331.0 564.6,323.7 566.9,315.0" fill="none" stroke="#000" stroke-width="2.8" stroke-linejoin="round"/>
<polyline points="127.3,423.3 139.1,423.9" fill="none" stroke="#000" stroke-width="2.8"/>
<polyline points="661.8,582.0 645.0,581.7 631.0,579.8 617.0,576.3 603.0,572.8 597.3,568.0 598.4,560.0 596.0,563.4 595.0,568.0 592.6,570.4 589.0,568.0 575.0,565.8 565.7,562.3 561.0,564.6 551.7,562.3 538.9,560.0 535.4,554.0 528.4,547.0 519.0,542.4 512.0,535.4 507.0,530.0 502.2,516.7 505.7,509.7 501.0,505.0 502.2,500.4 496.3,502.7 495.2,498.0 492.8,488.7 488.1,482.8 478.8,480.5 467.1,479.3 448.4,479.8 425.0,478.9 401.7,477.0 378.4,476.5 374.0,475.9 359.3,479.5 347.6,483.2 340.3,486.1 338.1,490.5 339.5,496.4 344.7,503.7 349.0,509.6 355.0,515.4 353.5,518.4 350.5,522.8 347.6,528.6 341.7,531.6 335.9,534.5 331.5,538.9 329.0,533.0 321.8,531.9 312.4,530.2 303.0,530.2 293.8,536.0 283.3,538.4 282.0,526.7 279.3,525.5 279.7,541.2 275.0,540.3 263.4,537.2 254.0,535.6 240.0,540.7 228.4,543.0 216.7,544.2 209.0,543.0 204.5,544.2 195.0,547.7 185.8,550.0 178.8,548.2 171.8,547.7 167.0,550.0 159.0,554.7 153.0,559.4 152.0,567.6 148.4,560.6 136.8,562.2 120.4,561.8 101.7,560.6 90.0,557.0 73.7,552.4 62.0,547.7 56.0,543.0" fill="none" stroke="#000" stroke-width="2.8" stroke-linejoin="round"/>
<polyline points="55,443 72,442.3 81.3,441 90.5,439 98.4,439 105,441 111.5,443.6 115.4,444.9 111.5,449.5 108.9,453.5 112.8,456.1 116.8,458.7 119.4,461.4 123.3,458.7 124.6,454.8 123.3,448.2 124.6,440.3 126,433.8 126.6,425.9 127.3,423.3" fill="none" stroke="#000" stroke-width="2.6" stroke-linejoin="round"/>
<polyline points="81.3,441 94.4,457.4 98.4,458.7 107.6,460 115.4,462.7 119.4,465.3" fill="none" stroke="#000" stroke-width="2.6"/>
<polygon points="128,476 135,478 137,490 146,493 158,489 160,494 153,501 140,504 132,500 129,490" fill="#000"/>
<polyline points="425,410 425,418" fill="none" stroke="#000" stroke-width="2.4"/><polyline points="467.5,408 468,415" fill="none" stroke="#000" stroke-width="2.4"/>
<polygon points="144,552 150,549 158,553 156,563 152,571 148,566 145,560" fill="#000"/>
<polygon points="183.9,554.0 185.6,556.8 181.1,558.6 175.5,559.1 170.9,557.8 165.1,556.8 165.7,554.0 165.2,551.2 169.6,549.2 175.5,548.8 180.4,549.9 184.6,551.5" fill="#fff" filter="url(#sp78)"/>
<polygon points="165.5,568.5 164.8,570.1 163.2,571.5 160.5,572.5 157.7,571.6 156.0,570.1 154.6,568.5 156.6,567.1 158.3,566.1 160.5,565.4 162.7,566.1 164.8,566.9" fill="#fff" filter="url(#sp79)"/>
<polyline points="533.7,349.3 531.3,355.7 533.7,360.5" fill="none" stroke="#000" stroke-width="2.2"/>
</g>
<rect x="58.2" y="316.8" width="354" height="103.9" rx="5" fill="#fafaf8" fill-opacity="0.87"/>
<line x1="68" y1="329.4" x2="91" y2="329.4" stroke="#000" stroke-width="4" stroke-linecap="round"/>
<rect x="66.1" y="340.8" width="26.7" height="12.6" rx="2.5" fill="#98fb98"/>
<rect x="66.1" y="359.5" width="26.7" height="12.6" rx="2.5" fill="#ffff00"/>
<rect x="66.1" y="378.1" width="26.7" height="12.6" rx="2.5" fill="#ff0000"/>
<rect x="66.1" y="396.8" width="26.7" height="12.6" rx="2.5" fill="#0000ff"/>
<text class="c" x="99.8" y="332.9" font-size="11.8" fill="#141414" stroke="#141414" stroke-width="0.3" textLength="206.7" lengthAdjust="spacingAndGlyphs">Stochastic Confidence Limit Contour 0.50</text>
<text class="c" x="99.8" y="351.3" font-size="11.8" fill="#141414" stroke="#141414" stroke-width="0.3" textLength="284.9" lengthAdjust="spacingAndGlyphs">Cells with convergence on water depth and flow velocity</text>
<text class="c" x="99.8" y="370.0" font-size="11.8" fill="#141414" stroke="#141414" stroke-width="0.3" textLength="301.2" lengthAdjust="spacingAndGlyphs">Cells without convergence on water depth and flow velocity</text>
<text class="c" x="99.8" y="388.6" font-size="11.8" fill="#141414" stroke="#141414" stroke-width="0.3" textLength="239.0" lengthAdjust="spacingAndGlyphs">Cells without convergence only on flow velocity</text>
<text class="c" x="99.8" y="407.0" font-size="11.8" fill="#141414" stroke="#141414" stroke-width="0.3" textLength="237.4" lengthAdjust="spacingAndGlyphs">Cells without convergence only on water depth</text>
<rect x="414.2" y="317.1" width="152" height="29.6" rx="5" fill="#fafaf8" fill-opacity="0.87"/>
<rect x="421.3" y="336.1" width="126.6" height="5.5" fill="#000"/>
<rect x="438.7" y="337.2" width="14.7" height="3.3" fill="#fff"/>
<rect x="485.1" y="337.2" width="30.9" height="3.3" fill="#fff"/>
<text class="c" x="421.3" y="331.2" font-size="11" text-anchor="middle" fill="#1a1a1a">0</text>
<text class="c" x="453.2" y="331.2" font-size="11" text-anchor="middle" fill="#1a1a1a">250</text>
<text class="c" x="484.8" y="331.2" font-size="11" text-anchor="middle" fill="#1a1a1a">500</text>
<text class="c" x="514.6" y="331.2" font-size="11" text-anchor="middle" fill="#1a1a1a">750</text>
<text class="c" x="545.6" y="331.2" font-size="11" text-anchor="middle" fill="#1a1a1a">1,000</text>
<text class="c" x="551" y="342" font-size="11" fill="#1a1a1a">m</text>
<rect x="415.2" y="349.8" width="17.4" height="28.6" rx="4" fill="#fafaf8" fill-opacity="0.87"/>
<polygon points="424,350.8 430.5,368.2 424,364.5 417.7,368.2" fill="#000"/>
<text class="c" x="423.9" y="377.2" font-size="10" text-anchor="middle" fill="#1a1a1a">N</text>
<rect x="55.5" y="314.6" width="606.3" height="267.2" fill="none" stroke="#000" stroke-width="1.6"/>
<line x1="118.3" y1="581.8" x2="118.3" y2="588.2" stroke="#000" stroke-width="1.4"/>
<line x1="234.3" y1="581.8" x2="234.3" y2="588.2" stroke="#000" stroke-width="1.4"/>
<line x1="350.4" y1="581.8" x2="350.4" y2="588.2" stroke="#000" stroke-width="1.4"/>
<line x1="466.6" y1="581.8" x2="466.6" y2="588.2" stroke="#000" stroke-width="1.4"/>
<line x1="583.3" y1="581.8" x2="583.3" y2="588.2" stroke="#000" stroke-width="1.4"/>
<line x1="661.8" y1="343.5" x2="668.4" y2="343.5" stroke="#000" stroke-width="1.4"/>
<line x1="661.8" y1="459.6" x2="668.4" y2="459.6" stroke="#000" stroke-width="1.4"/>
<line x1="661.8" y1="576.2" x2="668.4" y2="576.2" stroke="#000" stroke-width="1.4"/>
<text class="c" x="118.3" y="602.6" font-size="15.1" text-anchor="middle" fill="#000">5°45'30"W</text>
<text class="c" x="234.3" y="602.6" font-size="15.1" text-anchor="middle" fill="#000">5°45'W</text>
<text class="c" x="350.4" y="602.6" font-size="15.1" text-anchor="middle" fill="#000">5°44'30"W</text>
<text class="c" x="466.6" y="602.6" font-size="15.1" text-anchor="middle" fill="#000">5°44'W</text>
<text class="c" x="583.3" y="602.6" font-size="15.1" text-anchor="middle" fill="#000">5°43'30"W</text>
<text class="c" transform="translate(681.4,343.5) rotate(-90)" font-size="15.1" text-anchor="middle" fill="#000">41°30'30"N</text>
<text class="c" transform="translate(681.4,459.6) rotate(-90)" font-size="15.1" text-anchor="middle" fill="#000">41°30'N</text>
<text class="c" transform="translate(681.4,576.2) rotate(-90)" font-size="15.1" text-anchor="middle" fill="#000">41°29'30"N</text>
</svg></body></html>
